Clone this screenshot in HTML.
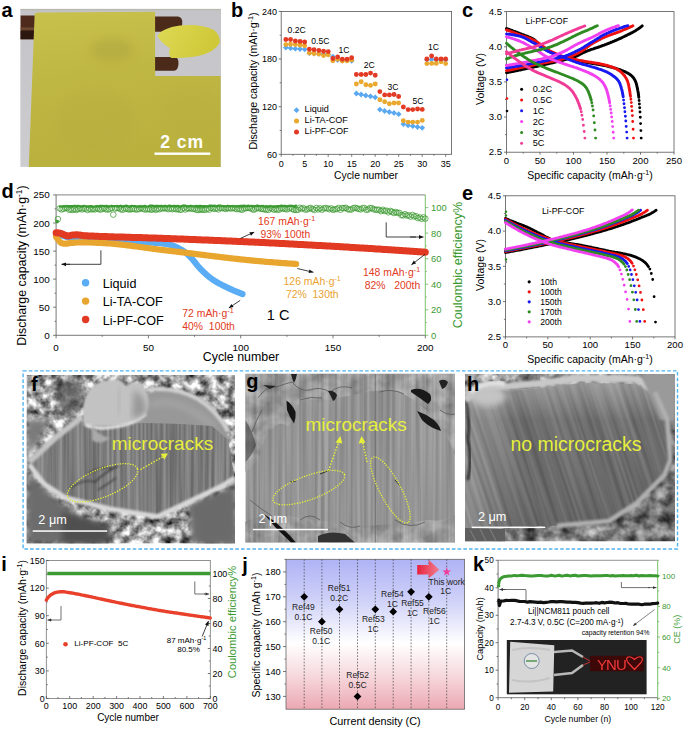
<!DOCTYPE html>
<html><head><meta charset="utf-8"><title>Figure</title>
<style>html,body{margin:0;padding:0;background:#fff;width:685px;height:729px;overflow:hidden}
svg{display:block;font-family:"Liberation Sans",sans-serif}</style></head>
<body><svg width="685" height="729" viewBox="0 0 685 729" font-family="Liberation Sans, sans-serif"><defs><linearGradient id="wall" x1="0" y1="0" x2="0" y2="1"><stop offset="0" stop-color="#c4c4c8"/><stop offset="1" stop-color="#cdcdd0"/></linearGradient><linearGradient id="film" x1="0" y1="0" x2="0.15" y2="1"><stop offset="0" stop-color="#c8c14c"/><stop offset="0.45" stop-color="#bfb743"/><stop offset="1" stop-color="#b9b03e"/></linearGradient><linearGradient id="disc" x1="0" y1="0" x2="1" y2="0.3"><stop offset="0" stop-color="#ddd954"/><stop offset="1" stop-color="#cfc838"/></linearGradient><filter id="ba" x="-30%" y="-30%" width="160%" height="160%"><feGaussianBlur stdDeviation="4"/></filter><clipPath id="ca"><rect x="20.2" y="8.7" width="200.8" height="158.20000000000002"/></clipPath><clipPath id="cf"><rect x="26.5" y="375" width="208.5" height="168.60000000000002"/></clipPath><filter id="gf1" x="0" y="0" width="100%" height="100%" color-interpolation-filters="sRGB"><feTurbulence type="fractalNoise" baseFrequency="0.11" numOctaves="3" seed="5"/><feColorMatrix type="matrix" values="1.452 0 0 0 -0.092 1.452 0 0 0 -0.092 1.452 0 0 0 -0.092 0 0 0 0 1"/><feComposite in2="SourceAlpha" operator="in"/></filter><filter id="bl1" x="-20%" y="-20%" width="140%" height="140%"><feGaussianBlur stdDeviation="1.2"/></filter><filter id="bl3" x="-20%" y="-20%" width="140%" height="140%"><feGaussianBlur stdDeviation="3"/></filter><pattern id="sf" width="3.4" height="20" patternUnits="userSpaceOnUse" patternTransform="rotate(0)"><rect width="1.4" height="20" fill="#000" opacity="0.06"/></pattern><filter id="stf" x="0" y="0" width="100%" height="100%" color-interpolation-filters="sRGB"><feTurbulence type="fractalNoise" baseFrequency="0.3 0.005" numOctaves="2" seed="4"/><feColorMatrix type="matrix" values="2.20 0 0 0 -0.60 2.20 0 0 0 -0.60 2.20 0 0 0 -0.60 0 0 0 0 1"/><feComposite in2="SourceAlpha" operator="in"/></filter><clipPath id="cg"><rect x="245.4" y="373.8" width="209.49999999999997" height="168.7"/></clipPath><filter id="gg1" x="0" y="0" width="100%" height="100%" color-interpolation-filters="sRGB"><feTurbulence type="fractalNoise" baseFrequency="0.06" numOctaves="3" seed="11"/><feColorMatrix type="matrix" values="0.355 0 0 0 0.442 0.355 0 0 0 0.442 0.355 0 0 0 0.442 0 0 0 0 1"/><feComposite in2="SourceAlpha" operator="in"/></filter><pattern id="sg" width="3.3" height="20" patternUnits="userSpaceOnUse" patternTransform="rotate(0)"><rect width="1.4" height="20" fill="#000" opacity="0.045"/></pattern><filter id="stg" x="0" y="0" width="100%" height="100%" color-interpolation-filters="sRGB"><feTurbulence type="fractalNoise" baseFrequency="0.28 0.004" numOctaves="2" seed="8"/><feColorMatrix type="matrix" values="2.00 0 0 0 -0.50 2.00 0 0 0 -0.50 2.00 0 0 0 -0.50 0 0 0 0 1"/><feComposite in2="SourceAlpha" operator="in"/></filter><clipPath id="ch"><rect x="465" y="374" width="210.10000000000002" height="167.5"/></clipPath><filter id="gh1" x="0" y="0" width="100%" height="100%" color-interpolation-filters="sRGB"><feTurbulence type="fractalNoise" baseFrequency="0.1" numOctaves="3" seed="21"/><feColorMatrix type="matrix" values="1.129 0 0 0 0.081 1.129 0 0 0 0.081 1.129 0 0 0 0.081 0 0 0 0 1"/><feComposite in2="SourceAlpha" operator="in"/></filter><filter id="gh2" x="0" y="0" width="100%" height="100%" color-interpolation-filters="sRGB"><feTurbulence type="fractalNoise" baseFrequency="0.08" numOctaves="3" seed="27"/><feColorMatrix type="matrix" values="0.903 0 0 0 0.010 0.903 0 0 0 0.010 0.903 0 0 0 0.010 0 0 0 0 1"/><feComposite in2="SourceAlpha" operator="in"/></filter><pattern id="sh" width="4.6" height="20" patternUnits="userSpaceOnUse" patternTransform="rotate(-14)"><rect width="1.8" height="20" fill="#000" opacity="0.05"/></pattern><linearGradient id="hg" x1="0" y1="0" x2="0.2" y2="1"><stop offset="0" stop-color="#747474"/><stop offset="1" stop-color="#646464"/></linearGradient><linearGradient id="hg2" x1="0" y1="0" x2="1" y2="0"><stop offset="0" stop-color="#a0a0a0" stop-opacity="0.7"/><stop offset="1" stop-color="#a0a0a0" stop-opacity="0"/></linearGradient><filter id="sth" x="0" y="0" width="100%" height="100%" color-interpolation-filters="sRGB"><feTurbulence type="fractalNoise" baseFrequency="0.22 0.004" numOctaves="2" seed="12"/><feColorMatrix type="matrix" values="2.00 0 0 0 -0.50 2.00 0 0 0 -0.50 2.00 0 0 0 -0.50 0 0 0 0 1"/><feComposite in2="SourceAlpha" operator="in"/></filter><clipPath id="chp"><path d="M466 402 L483.4 389 L511 390 L544.7 387 L581.5 383 L636.7 384 L655 394 L667.3 420 L670.4 459.8 L664.3 475.2 L636.7 502.8 L609 521 L557 525.7 L483.4 527.3 L465 530 L465 400Z"/></clipPath><linearGradient id="hg3" x1="0" y1="0" x2="0" y2="1"><stop offset="0" stop-color="#fff" stop-opacity="0.28"/><stop offset="1" stop-color="#fff" stop-opacity="0"/></linearGradient><linearGradient id="jbg" x1="0" y1="0" x2="0" y2="1"><stop offset="0" stop-color="#afb3f5"/><stop offset="0.28" stop-color="#d0d2f8"/><stop offset="0.56" stop-color="#ffffff"/><stop offset="0.78" stop-color="#f6d8dc"/><stop offset="1" stop-color="#eca8b2"/></linearGradient><linearGradient id="jar" x1="0" y1="0" x2="1" y2="0"><stop offset="0" stop-color="#e8203c"/><stop offset="1" stop-color="#f08090"/></linearGradient><filter id="glow" x="-20%" y="-40%" width="140%" height="180%"><feGaussianBlur stdDeviation="0.5"/></filter></defs><rect width="685" height="729" fill="#fff"/><text x="1.5" y="16.5" font-size="20" font-weight="bold" fill="#000">a</text><g clip-path="url(#ca)"><rect x="20.2" y="8.7" width="200.8" height="158.20000000000002" fill="url(#wall)"/><rect x="20.5" y="8.7" width="200.5" height="1.6" fill="#b8b8b0"/><path d="M20.5 15.5 L40 15.5 L40 39.2 L20.5 39.2 Z" fill="#4e2a1c"/><path d="M20.5 31 L40 31 L40 39.2 L20.5 39.2 Z" fill="#2c1610"/><path d="M20.5 28.6 L40 28.6" stroke="#6e4a36" stroke-width="2.4"/><path d="M150 16.4 L178 16.4 Q183 17 182.2 24 Q182 31 177 31.7 L150 31.7 Z" fill="#4c2a1a"/><path d="M150 56.9 L175 56.9 Q179 58 178.5 64 Q178 70.5 174 70.8 L150 70.8 Z" fill="#4c2a1a"/><path d="M157.4 36 Q162 28 180 25.5 Q200 23.5 214 30 Q221 36 219.5 43 Q215 52 198 56 Q182 58.5 171 58 Q168 54 170 48 Q162 44 157.4 36 Z" fill="url(#disc)"/><path d="M34.6 15 Q35 12.6 38 12.6 L155.1 11.8 L155.1 76 L220.6 76 L220.6 166.9 L28.8 166.9 Z" fill="url(#film)"/><ellipse cx="112" cy="50" rx="22" ry="12" fill="#a49a3a" opacity="0.35" filter="url(#ba)"/><ellipse cx="95" cy="120" rx="40" ry="30" fill="#b0a640" opacity="0.2" filter="url(#ba)"/><ellipse cx="190" cy="110" rx="30" ry="25" fill="#b4aa40" opacity="0.2" filter="url(#ba)"/></g><text x="160.3" y="147.8" font-size="17.6" font-weight="bold" fill="#fff" letter-spacing="0.9">2 cm</text><rect x="154.5" y="152.5" width="55.8" height="2.4" fill="#fff"/><text x="231" y="16.5" font-size="20" font-weight="bold" fill="#000">b</text><rect x="281.2" y="11.4" width="170.4" height="142.9" fill="none" stroke="#555" stroke-width="0.8"/><line x1="281.2" y1="154.3" x2="281.2" y2="156.8" stroke="#555" stroke-width="0.8"/><text x="281.2" y="166.8" font-size="9" text-anchor="middle">0</text><line x1="304.7" y1="154.3" x2="304.7" y2="156.8" stroke="#555" stroke-width="0.8"/><text x="304.7" y="166.8" font-size="9" text-anchor="middle">5</text><line x1="328.2" y1="154.3" x2="328.2" y2="156.8" stroke="#555" stroke-width="0.8"/><text x="328.2" y="166.8" font-size="9" text-anchor="middle">10</text><line x1="351.7" y1="154.3" x2="351.7" y2="156.8" stroke="#555" stroke-width="0.8"/><text x="351.7" y="166.8" font-size="9" text-anchor="middle">15</text><line x1="375.2" y1="154.3" x2="375.2" y2="156.8" stroke="#555" stroke-width="0.8"/><text x="375.2" y="166.8" font-size="9" text-anchor="middle">20</text><line x1="398.7" y1="154.3" x2="398.7" y2="156.8" stroke="#555" stroke-width="0.8"/><text x="398.7" y="166.8" font-size="9" text-anchor="middle">25</text><line x1="422.2" y1="154.3" x2="422.2" y2="156.8" stroke="#555" stroke-width="0.8"/><text x="422.2" y="166.8" font-size="9" text-anchor="middle">30</text><line x1="445.7" y1="154.3" x2="445.7" y2="156.8" stroke="#555" stroke-width="0.8"/><text x="445.7" y="166.8" font-size="9" text-anchor="middle">35</text><line x1="292.9" y1="154.3" x2="292.9" y2="155.8" stroke="#555" stroke-width="0.8"/><line x1="316.4" y1="154.3" x2="316.4" y2="155.8" stroke="#555" stroke-width="0.8"/><line x1="339.9" y1="154.3" x2="339.9" y2="155.8" stroke="#555" stroke-width="0.8"/><line x1="363.4" y1="154.3" x2="363.4" y2="155.8" stroke="#555" stroke-width="0.8"/><line x1="386.9" y1="154.3" x2="386.9" y2="155.8" stroke="#555" stroke-width="0.8"/><line x1="410.4" y1="154.3" x2="410.4" y2="155.8" stroke="#555" stroke-width="0.8"/><line x1="433.9" y1="154.3" x2="433.9" y2="155.8" stroke="#555" stroke-width="0.8"/><line x1="281.2" y1="154.3" x2="278.7" y2="154.3" stroke="#555" stroke-width="0.8"/><text x="277" y="157.5" font-size="9" text-anchor="end">60</text><line x1="281.2" y1="106.7" x2="278.7" y2="106.7" stroke="#555" stroke-width="0.8"/><text x="277" y="109.9" font-size="9" text-anchor="end">120</text><line x1="281.2" y1="59" x2="278.7" y2="59" stroke="#555" stroke-width="0.8"/><text x="277" y="62.2" font-size="9" text-anchor="end">180</text><line x1="281.2" y1="11.4" x2="278.7" y2="11.4" stroke="#555" stroke-width="0.8"/><text x="277" y="14.6" font-size="9" text-anchor="end">240</text><line x1="281.2" y1="130.5" x2="279.7" y2="130.5" stroke="#555" stroke-width="0.8"/><line x1="281.2" y1="82.8" x2="279.7" y2="82.8" stroke="#555" stroke-width="0.8"/><line x1="281.2" y1="35.2" x2="279.7" y2="35.2" stroke="#555" stroke-width="0.8"/><text x="366" y="178.5" font-size="10.4" text-anchor="middle">Cycle number</text><text x="256.5" y="81" font-size="10.6" text-anchor="middle" transform="rotate(-90 256.5 81)">Discharge capacity (mAh·g<tspan dy="-4" font-size="7.2">-1</tspan><tspan dy="4">)</tspan></text><path d="M285.9 44.6l2.9 2.9l-2.9 2.9l-2.9-2.9zM290.6 45.3l2.9 2.9l-2.9 2.9l-2.9-2.9zM295.3 45.8l2.9 2.9l-2.9 2.9l-2.9-2.9zM300 46.1l2.9 2.9l-2.9 2.9l-2.9-2.9zM304.7 46.4l2.9 2.9l-2.9 2.9l-2.9-2.9zM309.4 50.2l2.9 2.9l-2.9 2.9l-2.9-2.9zM314.1 50.6l2.9 2.9l-2.9 2.9l-2.9-2.9zM318.8 50.9l2.9 2.9l-2.9 2.9l-2.9-2.9zM323.5 51.2l2.9 2.9l-2.9 2.9l-2.9-2.9zM328.2 51.5l2.9 2.9l-2.9 2.9l-2.9-2.9zM332.9 53.8l2.9 2.9l-2.9 2.9l-2.9-2.9zM337.6 57.1l2.9 2.9l-2.9 2.9l-2.9-2.9zM342.3 57.5l2.9 2.9l-2.9 2.9l-2.9-2.9zM347 57.7l2.9 2.9l-2.9 2.9l-2.9-2.9zM351.7 57.9l2.9 2.9l-2.9 2.9l-2.9-2.9zM356.4 90.6l2.9 2.9l-2.9 2.9l-2.9-2.9zM361.1 91.6l2.9 2.9l-2.9 2.9l-2.9-2.9zM365.8 92.6l2.9 2.9l-2.9 2.9l-2.9-2.9zM370.5 93.4l2.9 2.9l-2.9 2.9l-2.9-2.9zM375.2 94.4l2.9 2.9l-2.9 2.9l-2.9-2.9zM379.9 106.7l2.9 2.9l-2.9 2.9l-2.9-2.9zM384.6 108.1l2.9 2.9l-2.9 2.9l-2.9-2.9zM389.3 109.1l2.9 2.9l-2.9 2.9l-2.9-2.9zM394 110l2.9 2.9l-2.9 2.9l-2.9-2.9zM398.7 111.3l2.9 2.9l-2.9 2.9l-2.9-2.9zM403.4 121.2l2.9 2.9l-2.9 2.9l-2.9-2.9zM408.1 122.5l2.9 2.9l-2.9 2.9l-2.9-2.9zM412.8 123.2l2.9 2.9l-2.9 2.9l-2.9-2.9zM417.5 124.1l2.9 2.9l-2.9 2.9l-2.9-2.9zM422.2 124.9l2.9 2.9l-2.9 2.9l-2.9-2.9zM426.9 56.9l2.9 2.9l-2.9 2.9l-2.9-2.9zM431.6 56.5l2.9 2.9l-2.9 2.9l-2.9-2.9zM436.3 56.9l2.9 2.9l-2.9 2.9l-2.9-2.9zM441 56.9l2.9 2.9l-2.9 2.9l-2.9-2.9zM445.7 56.9l2.9 2.9l-2.9 2.9l-2.9-2.9z" stroke="none" stroke-width="1" fill="#5aa9f0"/><path d="M283.4 44.6a2.45 2.45 0 1 0 4.9 0a2.45 2.45 0 1 0 -4.9 0M288.1 44.3a2.45 2.45 0 1 0 4.9 0a2.45 2.45 0 1 0 -4.9 0M292.9 44.6a2.45 2.45 0 1 0 4.9 0a2.45 2.45 0 1 0 -4.9 0M297.6 45a2.45 2.45 0 1 0 4.9 0a2.45 2.45 0 1 0 -4.9 0M302.2 45.8a2.45 2.45 0 1 0 4.9 0a2.45 2.45 0 1 0 -4.9 0M306.9 53.1a2.45 2.45 0 1 0 4.9 0a2.45 2.45 0 1 0 -4.9 0M311.6 53.6a2.45 2.45 0 1 0 4.9 0a2.45 2.45 0 1 0 -4.9 0M316.4 54.1a2.45 2.45 0 1 0 4.9 0a2.45 2.45 0 1 0 -4.9 0M321.1 55.5a2.45 2.45 0 1 0 4.9 0a2.45 2.45 0 1 0 -4.9 0M325.8 54.8a2.45 2.45 0 1 0 4.9 0a2.45 2.45 0 1 0 -4.9 0M330.4 60.7a2.45 2.45 0 1 0 4.9 0a2.45 2.45 0 1 0 -4.9 0M335.2 59.2a2.45 2.45 0 1 0 4.9 0a2.45 2.45 0 1 0 -4.9 0M339.9 61a2.45 2.45 0 1 0 4.9 0a2.45 2.45 0 1 0 -4.9 0M344.6 60.7a2.45 2.45 0 1 0 4.9 0a2.45 2.45 0 1 0 -4.9 0M349.2 59.9a2.45 2.45 0 1 0 4.9 0a2.45 2.45 0 1 0 -4.9 0M353.9 84a2.45 2.45 0 1 0 4.9 0a2.45 2.45 0 1 0 -4.9 0M358.7 81.8a2.45 2.45 0 1 0 4.9 0a2.45 2.45 0 1 0 -4.9 0M363.4 84.8a2.45 2.45 0 1 0 4.9 0a2.45 2.45 0 1 0 -4.9 0M368.1 85.4a2.45 2.45 0 1 0 4.9 0a2.45 2.45 0 1 0 -4.9 0M372.8 84a2.45 2.45 0 1 0 4.9 0a2.45 2.45 0 1 0 -4.9 0M377.4 99.8a2.45 2.45 0 1 0 4.9 0a2.45 2.45 0 1 0 -4.9 0M382.2 101.8a2.45 2.45 0 1 0 4.9 0a2.45 2.45 0 1 0 -4.9 0M386.9 103.7a2.45 2.45 0 1 0 4.9 0a2.45 2.45 0 1 0 -4.9 0M391.6 103a2.45 2.45 0 1 0 4.9 0a2.45 2.45 0 1 0 -4.9 0M396.2 103a2.45 2.45 0 1 0 4.9 0a2.45 2.45 0 1 0 -4.9 0M400.9 120.8a2.45 2.45 0 1 0 4.9 0a2.45 2.45 0 1 0 -4.9 0M405.7 122.1a2.45 2.45 0 1 0 4.9 0a2.45 2.45 0 1 0 -4.9 0M410.3 122.1a2.45 2.45 0 1 0 4.9 0a2.45 2.45 0 1 0 -4.9 0M415.1 122.1a2.45 2.45 0 1 0 4.9 0a2.45 2.45 0 1 0 -4.9 0M419.8 120.4a2.45 2.45 0 1 0 4.9 0a2.45 2.45 0 1 0 -4.9 0M424.4 63.6a2.45 2.45 0 1 0 4.9 0a2.45 2.45 0 1 0 -4.9 0M429.2 63.4a2.45 2.45 0 1 0 4.9 0a2.45 2.45 0 1 0 -4.9 0M433.8 63.4a2.45 2.45 0 1 0 4.9 0a2.45 2.45 0 1 0 -4.9 0M438.6 61.7a2.45 2.45 0 1 0 4.9 0a2.45 2.45 0 1 0 -4.9 0M443.2 63.6a2.45 2.45 0 1 0 4.9 0a2.45 2.45 0 1 0 -4.9 0" stroke="none" stroke-width="1" fill="#eaa82e"/><path d="M283.4 39.5a2.45 2.45 0 1 0 4.9 0a2.45 2.45 0 1 0 -4.9 0M288.1 39.5a2.45 2.45 0 1 0 4.9 0a2.45 2.45 0 1 0 -4.9 0M292.9 41a2.45 2.45 0 1 0 4.9 0a2.45 2.45 0 1 0 -4.9 0M297.6 41.4a2.45 2.45 0 1 0 4.9 0a2.45 2.45 0 1 0 -4.9 0M302.2 42a2.45 2.45 0 1 0 4.9 0a2.45 2.45 0 1 0 -4.9 0M306.9 49.3a2.45 2.45 0 1 0 4.9 0a2.45 2.45 0 1 0 -4.9 0M311.6 49.7a2.45 2.45 0 1 0 4.9 0a2.45 2.45 0 1 0 -4.9 0M316.4 50.4a2.45 2.45 0 1 0 4.9 0a2.45 2.45 0 1 0 -4.9 0M321.1 51.2a2.45 2.45 0 1 0 4.9 0a2.45 2.45 0 1 0 -4.9 0M325.8 51.6a2.45 2.45 0 1 0 4.9 0a2.45 2.45 0 1 0 -4.9 0M330.4 58.5a2.45 2.45 0 1 0 4.9 0a2.45 2.45 0 1 0 -4.9 0M335.2 57a2.45 2.45 0 1 0 4.9 0a2.45 2.45 0 1 0 -4.9 0M339.9 59.2a2.45 2.45 0 1 0 4.9 0a2.45 2.45 0 1 0 -4.9 0M344.6 59.2a2.45 2.45 0 1 0 4.9 0a2.45 2.45 0 1 0 -4.9 0M349.2 57.7a2.45 2.45 0 1 0 4.9 0a2.45 2.45 0 1 0 -4.9 0M353.9 74.5a2.45 2.45 0 1 0 4.9 0a2.45 2.45 0 1 0 -4.9 0M358.7 74.5a2.45 2.45 0 1 0 4.9 0a2.45 2.45 0 1 0 -4.9 0M363.4 74.5a2.45 2.45 0 1 0 4.9 0a2.45 2.45 0 1 0 -4.9 0M368.1 73.1a2.45 2.45 0 1 0 4.9 0a2.45 2.45 0 1 0 -4.9 0M372.8 75.3a2.45 2.45 0 1 0 4.9 0a2.45 2.45 0 1 0 -4.9 0M377.4 91.6a2.45 2.45 0 1 0 4.9 0a2.45 2.45 0 1 0 -4.9 0M382.2 94.9a2.45 2.45 0 1 0 4.9 0a2.45 2.45 0 1 0 -4.9 0M386.9 94.9a2.45 2.45 0 1 0 4.9 0a2.45 2.45 0 1 0 -4.9 0M391.6 94.5a2.45 2.45 0 1 0 4.9 0a2.45 2.45 0 1 0 -4.9 0M396.2 96.5a2.45 2.45 0 1 0 4.9 0a2.45 2.45 0 1 0 -4.9 0M400.9 107a2.45 2.45 0 1 0 4.9 0a2.45 2.45 0 1 0 -4.9 0M405.7 109.6a2.45 2.45 0 1 0 4.9 0a2.45 2.45 0 1 0 -4.9 0M410.3 109.6a2.45 2.45 0 1 0 4.9 0a2.45 2.45 0 1 0 -4.9 0M415.1 109a2.45 2.45 0 1 0 4.9 0a2.45 2.45 0 1 0 -4.9 0M419.8 109.4a2.45 2.45 0 1 0 4.9 0a2.45 2.45 0 1 0 -4.9 0M424.4 59a2.45 2.45 0 1 0 4.9 0a2.45 2.45 0 1 0 -4.9 0M429.2 56a2.45 2.45 0 1 0 4.9 0a2.45 2.45 0 1 0 -4.9 0M433.8 59a2.45 2.45 0 1 0 4.9 0a2.45 2.45 0 1 0 -4.9 0M438.6 59a2.45 2.45 0 1 0 4.9 0a2.45 2.45 0 1 0 -4.9 0M443.2 59a2.45 2.45 0 1 0 4.9 0a2.45 2.45 0 1 0 -4.9 0" stroke="none" stroke-width="1" fill="#e23a24"/><text x="296.7" y="32.7" font-size="8.6" text-anchor="middle">0.2C</text><text x="320.3" y="43.9" font-size="8.6" text-anchor="middle">0.5C</text><text x="343.9" y="52.6" font-size="8.6" text-anchor="middle">1C</text><text x="369.2" y="68.2" font-size="8.6" text-anchor="middle">2C</text><text x="393" y="90.3" font-size="8.6" text-anchor="middle">3C</text><text x="418" y="103.7" font-size="8.6" text-anchor="middle">5C</text><text x="433.4" y="49.9" font-size="8.6" text-anchor="middle">1C</text><path d="M296.5 107.3l2.9 2.9l-2.9 2.9l-2.9-2.9z" stroke="none" stroke-width="1" fill="#5aa9f0"/><circle cx="296.5" cy="121.1" r="2.5" fill="#eaa82e"/><circle cx="296.5" cy="132" r="2.5" fill="#e23a24"/><text x="304.6" y="112.4" font-size="9.1">Liquid</text><text x="304.6" y="123.2" font-size="9.1">Li-TA-COF</text><text x="304.6" y="134.1" font-size="9.1">Li-PF-COF</text><text x="462" y="17.2" font-size="20" font-weight="bold" fill="#000">c</text><rect x="506.5" y="11.6" width="167.5" height="140.6" fill="none" stroke="#555" stroke-width="0.8"/><line x1="506.5" y1="152.2" x2="506.5" y2="154.7" stroke="#555" stroke-width="0.8"/><text x="506.5" y="163.5" font-size="9.6" text-anchor="middle">0</text><line x1="540" y1="152.2" x2="540" y2="154.7" stroke="#555" stroke-width="0.8"/><text x="540" y="163.5" font-size="9.6" text-anchor="middle">50</text><line x1="573.5" y1="152.2" x2="573.5" y2="154.7" stroke="#555" stroke-width="0.8"/><text x="573.5" y="163.5" font-size="9.6" text-anchor="middle">100</text><line x1="607" y1="152.2" x2="607" y2="154.7" stroke="#555" stroke-width="0.8"/><text x="607" y="163.5" font-size="9.6" text-anchor="middle">150</text><line x1="640.5" y1="152.2" x2="640.5" y2="154.7" stroke="#555" stroke-width="0.8"/><text x="640.5" y="163.5" font-size="9.6" text-anchor="middle">200</text><line x1="674" y1="152.2" x2="674" y2="154.7" stroke="#555" stroke-width="0.8"/><text x="674" y="163.5" font-size="9.6" text-anchor="middle">250</text><line x1="523.2" y1="152.2" x2="523.2" y2="153.7" stroke="#555" stroke-width="0.8"/><line x1="556.8" y1="152.2" x2="556.8" y2="153.7" stroke="#555" stroke-width="0.8"/><line x1="590.2" y1="152.2" x2="590.2" y2="153.7" stroke="#555" stroke-width="0.8"/><line x1="623.8" y1="152.2" x2="623.8" y2="153.7" stroke="#555" stroke-width="0.8"/><line x1="657.2" y1="152.2" x2="657.2" y2="153.7" stroke="#555" stroke-width="0.8"/><line x1="506.5" y1="152.2" x2="504" y2="152.2" stroke="#555" stroke-width="0.8"/><text x="502" y="155.4" font-size="9.6" text-anchor="end">2.5</text><line x1="506.5" y1="117" x2="504" y2="117" stroke="#555" stroke-width="0.8"/><text x="502" y="120.2" font-size="9.6" text-anchor="end">3.0</text><line x1="506.5" y1="81.9" x2="504" y2="81.9" stroke="#555" stroke-width="0.8"/><text x="502" y="85.1" font-size="9.6" text-anchor="end">3.5</text><line x1="506.5" y1="46.8" x2="504" y2="46.8" stroke="#555" stroke-width="0.8"/><text x="502" y="50" font-size="9.6" text-anchor="end">4.0</text><line x1="506.5" y1="11.6" x2="504" y2="11.6" stroke="#555" stroke-width="0.8"/><text x="502" y="14.8" font-size="9.6" text-anchor="end">4.5</text><line x1="506.5" y1="134.6" x2="505" y2="134.6" stroke="#555" stroke-width="0.8"/><line x1="506.5" y1="99.5" x2="505" y2="99.5" stroke="#555" stroke-width="0.8"/><line x1="506.5" y1="64.3" x2="505" y2="64.3" stroke="#555" stroke-width="0.8"/><line x1="506.5" y1="29.2" x2="505" y2="29.2" stroke="#555" stroke-width="0.8"/><text x="590" y="178.5" font-size="10.5" text-anchor="middle">Specific capacity (mAh·g<tspan dy="-4" font-size="7.1">-1</tspan><tspan dy="4">)</tspan></text><text x="483.5" y="79" font-size="10.5" text-anchor="middle" transform="rotate(-90 483.5 79)">Voltage (V)</text><text x="525.5" y="24.2" font-size="8.8">Li-PF-COF</text><path d="M506.5 72.8 507.4 72.6 508.3 72.4 509.2 72.2 510.1 72 511 71.9 511.9 71.7 512.8 71.5 513.7 71.3 514.6 71.1 515.5 70.9 516.5 70.7 517.4 70.6 518.3 70.4 519.2 70.2 520.1 70 521 69.8 521.9 69.6 522.8 69.4 523.7 69.2 524.6 69 525.5 68.8 526.4 68.6 527.3 68.4 528.2 68.2 529.1 68.1 530 67.9 530.9 67.7 531.8 67.5 532.7 67.3 533.6 67.1 534.5 66.9 535.5 66.7 536.4 66.5 537.3 66.3 538.2 66.1 539.1 65.9 540 65.7 540.9 65.5 541.8 65.3 542.7 65.1 543.6 64.9 544.5 64.6 545.4 64.4 546.3 64.2 547.2 64 548.1 63.8 549 63.6 549.9 63.4 550.8 63.2 551.7 63 552.6 62.8 553.5 62.6 554.5 62.3 555.4 62.1 556.3 61.9 557.2 61.7 558.1 61.5 559 61.2 559.9 61 560.8 60.8 561.7 60.6 562.6 60.3 563.5 60.1 564.4 59.9 565.3 59.6 566.2 59.4 567.1 59.2 568 58.9 568.9 58.7 569.8 58.4 570.7 58.2 571.6 57.9 572.5 57.6 573.4 57.3 574.4 57 575.3 56.6 576.2 56.2 577.1 55.8 578 55.4 578.9 54.9 579.8 54.4 580.7 54 581.6 53.5 582.5 53.1 583.4 52.6 584.3 52.2 585.2 51.8 586.1 51.4 587 51.1 587.9 50.7 588.8 50.4 589.7 50.1 590.6 49.7 591.5 49.4 592.4 49.1 593.4 48.8 594.3 48.5 595.2 48.2 596.1 47.9 597 47.6 597.9 47.3 598.8 47 599.7 46.7 600.6 46.4 601.5 46 602.4 45.7 603.3 45.4 604.2 45.1 605.1 44.7 606 44.4 606.9 44 607.8 43.7 608.7 43.3 609.6 42.9 610.5 42.6 611.4 42.2 612.4 41.8 613.3 41.4 614.2 41.1 615.1 40.7 616 40.3 616.9 39.9 617.8 39.5 618.7 39.1 619.6 38.7 620.5 38.3 621.4 37.9 622.3 37.4 623.2 37 624.1 36.6 625 36.1 625.9 35.7 626.8 35.3 627.7 34.8 628.6 34.3 629.5 33.9 630.4 33.4 631.4 32.9 632.3 32.4 633.2 31.9 634.1 31.4 635 30.9 635.9 30.4 636.8 29.8 637.7 29.3 638.6 28.7 639.5 28 640.4 27.3 641.3 26.6 642.2 25.9" stroke="#000" stroke-width="2.9" fill="none" stroke-linecap="round" stroke-linejoin="round"/><path d="M506.5 28.5 507.4 28.8 508.3 29.1 509.2 29.4 510.1 29.8 511 30.1 511.9 30.4 512.8 30.8 513.7 31.1 514.7 31.4 515.6 31.8 516.5 32.1 517.4 32.5 518.3 32.9 519.2 33.2 520.1 33.6 521 33.9 521.9 34.3 522.8 34.6 523.7 34.9 524.6 35.3 525.5 35.6 526.4 35.9 527.3 36.3 528.2 36.6 529.1 37 530.1 37.4 531 37.9 531.9 38.3 532.8 38.8 533.7 39.3 534.6 39.9 535.5 40.6 536.4 41.6 537.3 42.6 537.9 43.3 538.5 44 539.1 44.6 540 45.6 540.9 46.4 541.8 47.1 542.7 47.7 543.6 48.3 544.5 48.9 545.5 49.4 546.4 50 547.3 50.5 548.2 51 549.1 51.4 550 51.9 550.9 52.3 551.8 52.7 552.7 53.1 553.6 53.5 554.5 53.9 555.4 54.2 556.3 54.6 557.2 54.9 558.1 55.2 559 55.5 559.9 55.8 560.9 56.1 561.8 56.3 562.7 56.6 563.6 56.8 564.5 57.1 565.4 57.3 566.3 57.5 567.2 57.8 568.1 58 569 58.2 569.9 58.5 570.8 58.7 571.7 58.9 572.6 59.2 573.5 59.4 574.4 59.6 575.3 59.9 576.3 60.1 577.2 60.3 578.1 60.5 579 60.7 579.9 61 580.8 61.2 581.7 61.4 582.6 61.6 583.5 61.8 584.4 62 585.3 62.2 586.2 62.3 587.1 62.5 588 62.7 588.9 62.9 589.8 63 590.7 63.2 591.7 63.3 592.6 63.5 593.5 63.6 594.4 63.8 595.3 63.9 596.2 64.1 597.1 64.2 598 64.4 598.9 64.5 599.8 64.7 600.7 64.8 601.6 65 602.5 65.2 603.4 65.3 604.3 65.5 605.2 65.7 606.1 65.9 607 66.1 608 66.3 608.9 66.5 609.8 66.8 610.7 67 611.6 67.2 612.5 67.5 613.4 67.7 614.3 68 615.2 68.2 616.1 68.5 617 68.8 617.9 69.1 618.8 69.4 619.7 69.7 620.6 70 621.5 70.4 622.4 70.7 623.4 71.1 624.3 71.4 625.2 71.8 626.1 72.3 627 72.7 627.9 73.2 628.8 73.7 629.7 74.3 630.6 75 631.5 75.7 632.4 76.6 633 77.3 633.6 78 634.2 78.9 634.8 79.9 635.4 81.1 636 82.7 636.3 83.7 636.6 84.8 636.9 86.1 637.2 87.4 637.5 88.9 637.8 90.5 638.2 92.4 638.5 94.7 638.8 97.4M639.1 100.5h0M639.4 104h0M639.7 107.7h0M640 112h0M640.3 117.3h0M640.6 123.6h0M640.9 130.6h0M641.2 138.1h0" stroke="#000" stroke-width="2.9" fill="none" stroke-linecap="round" stroke-linejoin="round"/><path d="M506.5 70.7 507.6 70.4 508.7 70.2 509.8 70 510.9 69.7 512 69.5 513.1 69.3 514.3 69 515.4 68.8 516.5 68.6 517.6 68.3 518.7 68.1 519.8 67.9 520.9 67.6 522 67.4 523.1 67.2 524.2 66.9 525.3 66.7 526.4 66.5 527.5 66.2 528.7 66 529.8 65.8 530.9 65.5 532 65.3 533.1 65.1 534.2 64.8 535.3 64.6 536.4 64.4 537.5 64.2 538.6 64 539.7 63.8 540.8 63.5 541.9 63.3 543 63.1 544.2 62.9 545.3 62.7 546.4 62.5 547.5 62.3 548.6 62.1 549.7 61.9 550.8 61.7 551.9 61.4 553 61.2 554.1 61 555.2 60.7 556.3 60.5 557.4 60.2 558.6 60 559.7 59.7 560.8 59.4 561.9 59.1 563 58.8 564.1 58.5 565.2 58.2 566.3 57.8 567.4 57.5 568.5 57.1 569.6 56.7 570.7 56.3 571.8 55.9 573 55.4 574.1 55 575.2 54.5 576.3 54 577.4 53.5 578.5 52.9 579.6 52.3 580.7 51.7 581.8 51 582.9 50.2 583.7 49.7 584.4 49.2 585.1 48.6 585.9 48.1 586.6 47.5 587.4 47 588.1 46.5 588.8 45.9 589.6 45.4 590.7 44.6 591.8 43.9 592.9 43.3 594 42.6 595.1 42 596.2 41.4 597.3 40.8 598.4 40.2 599.5 39.6 600.6 39.1 601.7 38.5 602.9 38 604 37.5 605.1 37 606.2 36.5 607.3 36.1 608.4 35.7 609.5 35.2 610.6 34.8 611.7 34.4 612.8 34.1 613.9 33.7 615 33.3 616.1 32.9 617.3 32.5 618.4 32.1 619.5 31.7 620.6 31.2 621.7 30.8 622.8 30.3 623.9 29.8 625 29.3 626.1 28.9 627.2 28.4 628.3 27.9 629.4 27.4 630.5 26.9 631.7 26.4 632.8 25.8" stroke="#f01010" stroke-width="2.9" fill="none" stroke-linecap="round" stroke-linejoin="round"/><path d="M506.5 29.9 507.6 30.3 508.7 30.7 509.8 31.1 510.9 31.5 512 31.9 513.1 32.4 514.3 32.8 515.4 33.2 516.5 33.6 517.6 34 518.7 34.4 519.8 34.9 520.9 35.3 522 35.7 523.1 36.1 524.2 36.4 525.3 36.8 526.4 37.2 527.5 37.6 528.6 38 529.8 38.4 530.9 38.9 532 39.4 533.1 39.8 534.2 40.4 535.3 40.9 536.4 41.6 537.5 42.3 538.6 43.1 539.3 43.6 540.1 44.1 540.8 44.7 541.6 45.2 542.3 45.8 543 46.4 543.8 46.9 544.5 47.4 545.3 48 546.4 48.7 547.5 49.4 548.6 50.1 549.7 50.7 550.8 51.2 551.9 51.8 553 52.3 554.1 52.9 555.2 53.4 556.3 53.9 557.4 54.4 558.5 54.8 559.6 55.3 560.8 55.7 561.9 56.1 563 56.4 564.1 56.8 565.2 57.1 566.3 57.4 567.4 57.7 568.5 58 569.6 58.3 570.7 58.5 571.8 58.8 572.9 59 574 59.2 575.1 59.5 576.3 59.7 577.4 59.9 578.5 60.2 579.6 60.4 580.7 60.6 581.8 60.8 582.9 61 584 61.2 585.1 61.4 586.2 61.6 587.3 61.7 588.4 61.9 589.5 62.1 590.7 62.2 591.8 62.4 592.9 62.6 594 62.8 595.1 63 596.2 63.1 597.3 63.3 598.4 63.5 599.5 63.7 600.6 64 601.7 64.2 602.8 64.4 603.9 64.7 605 65 606.2 65.2 607.3 65.5 608.4 65.8 609.5 66.2 610.6 66.5 611.7 66.9 612.8 67.3 613.9 67.8 615 68.3 616.1 68.8 617.2 69.3 618.3 70 619.4 70.8 620.2 71.3 620.9 72 621.7 72.6 622.4 73.4 623.1 74.2 623.9 75 624.6 75.9 625.3 77 626.1 78.2 626.8 79.6 627.2 80.4 627.6 81.3 627.9 82.4 628.3 83.7 628.7 85.2 629 87.1 629.4 89.1 629.8 91.4 630.1 93.8 630.5 96.4M630.9 99.3h0M631.3 102.6h0M631.6 106.4h0M632 110.7h0M632.4 115.6h0M632.7 121.5h0M633.1 129.3h0M633.5 138.1h0" stroke="#f01010" stroke-width="2.9" fill="none" stroke-linecap="round" stroke-linejoin="round"/><path d="M506.5 67.8 507.8 67.7 509.1 67.5 510.4 67.3 511.7 67.1 513 66.9 514.4 66.6 515.7 66.4 517 66.2 518.3 66 519.6 65.8 520.9 65.6 522.2 65.3 523.5 65.1 524.8 64.9 526.1 64.6 527.4 64.4 528.7 64.1 530.1 63.9 531.4 63.6 532.7 63.4 534 63.1 535.3 62.9 536.6 62.6 537.9 62.3 539.2 62.1 540.5 61.8 541.8 61.5 543.1 61.3 544.5 61 545.8 60.7 547.1 60.5 548.4 60.2 549.7 59.9 551 59.6 552.3 59.4 553.6 59.1 554.9 58.8 556.2 58.5 557.5 58.2 558.8 57.9 559.7 57.6 560.6 57.4 561.5 57.2 562.3 56.9 563.2 56.7 564.1 56.4 565 56.1 565.8 55.8 566.7 55.5 567.6 55.1 568.4 54.8 569.3 54.4 570.2 54.1 571.1 53.7 571.9 53.3 572.8 52.9 573.7 52.5 574.6 52.1 575.4 51.6 576.3 51.2 577.2 50.8 578 50.3 578.9 49.9 579.8 49.4 580.7 49 581.5 48.5 582.4 47.9 583.3 47.4 584.1 46.9 585 46.3 585.9 45.8 586.8 45.3 587.6 44.7 588.5 44.1 589.4 43.6 590.3 43 591.1 42.5 592 42 592.9 41.4 593.7 40.9 594.6 40.4 595.5 39.8 596.4 39.3 597.2 38.8 598.1 38.2 599 37.7 599.9 37.1 600.7 36.6 601.6 36.1 602.5 35.6 603.3 35.1 604.2 34.7 605.1 34.2 606 33.8 606.8 33.4 607.7 33 608.6 32.6 609.4 32.2 610.3 31.8 611.2 31.5 612.1 31.1 612.9 30.7 613.8 30.4 614.7 30.1 615.6 29.7 616.4 29.4 617.3 29.1 618.2 28.8 619 28.5 619.9 28.1 620.8 27.8 621.7 27.6 622.5 27.3 623.4 27 624.3 26.7 625.2 26.4 626 26.2 626.9 25.9 627.8 25.7" stroke="#1818f0" stroke-width="2.9" fill="none" stroke-linecap="round" stroke-linejoin="round"/><path d="M506.5 34.1 507.8 34.1 509.1 34.2 510.4 34.4 511.7 34.6 513.1 34.8 514.4 35 515.7 35.3 517 35.6 518.3 35.9 519.6 36.2 520.5 36.4 521.4 36.7 522.2 37 523.1 37.4 524 37.7 524.9 38.1 525.7 38.6 526.6 39 527.5 39.5 528.3 39.9 529.2 40.4 530.1 40.9 531 41.4 531.8 41.9 532.7 42.4 533.6 42.9 534.5 43.3 535.3 43.8 536.2 44.3 537.1 44.8 538 45.3 538.8 45.8 539.7 46.4 540.6 46.9 541.5 47.5 542.3 48 543.2 48.5 544.1 49.1 545 49.6 545.8 50.1 546.7 50.6 547.6 51 548.4 51.5 549.3 51.9 550.2 52.2 551.1 52.6 551.9 53 552.8 53.3 553.7 53.7 554.6 54 555.4 54.4 556.3 54.7 557.2 55 558.1 55.3 558.9 55.6 559.8 55.9 560.7 56.3 561.6 56.6 562.4 56.9 563.3 57.2 564.2 57.6 565.1 57.9 565.9 58.3 566.8 58.6 567.7 59 568.5 59.3 569.4 59.7 570.3 60 571.2 60.3 572 60.7 572.9 61 573.8 61.4 574.7 61.7 575.5 62 576.4 62.3 577.3 62.6 578.2 62.9 579 63.2 579.9 63.5 580.8 63.7 581.7 64 582.5 64.2 583.4 64.5 584.3 64.7 585.2 64.9 586 65.2 586.9 65.4 587.8 65.7 588.6 65.9 589.5 66.1 590.4 66.4 591.3 66.6 592.1 66.9 593 67.2 593.9 67.4 594.8 67.7 595.6 68 596.5 68.2 597.4 68.5 598.3 68.8 599.1 69.1 600 69.3 600.9 69.6 601.8 69.9 602.6 70.3 603.5 70.6 604.4 71 605.3 71.3 606.1 71.7 607 72.1 607.9 72.6 608.7 73 609.6 73.5 610.5 74.1 611.4 74.6 612.2 75.2 613.1 75.8 614 76.5 614.9 77.2 615.7 77.9 616.6 78.7 617.5 79.7 618.4 80.8 619.2 82.2 619.7 83.1 620.1 84.1 620.5 85.4 621 86.8 621.4 88.3 621.9 90 622.3 91.9 622.7 94.1 623.2 96.8M623.6 100.1h0M624 103.8h0M624.5 107.7h0M624.9 111.8h0M625.4 116.2h0M625.8 121h0M626.2 126.4h0M626.7 132.1h0M627.1 138.1h0" stroke="#1818f0" stroke-width="2.9" fill="none" stroke-linecap="round" stroke-linejoin="round"/><path d="M506.5 65.5 507.5 65.4 508.5 65.2 509.5 65 510.5 64.8 511.5 64.7 512.5 64.5 513.6 64.3 514.6 64.1 515.6 63.9 516.6 63.8 517.6 63.6 518.6 63.4 519.6 63.2 520.6 63 521.6 62.8 522.6 62.6 523.6 62.5 524.6 62.3 525.7 62.1 526.7 61.9 527.7 61.7 528.7 61.5 529.7 61.3 530.7 61.1 531.7 60.9 532.7 60.7 533.7 60.5 534.7 60.3 535.7 60.1 536.7 59.9 537.7 59.7 538.8 59.5 539.8 59.3 540.8 59.1 541.8 58.9 542.8 58.7 543.8 58.5 544.8 58.3 545.8 58.1 546.8 57.8 547.8 57.6 548.8 57.3 549.8 57 550.9 56.7 551.9 56.4 552.9 56.1 553.9 55.7 554.9 55.3 555.9 54.9 556.9 54.5 557.9 54.1 558.9 53.7 559.9 53.2 560.9 52.8 561.9 52.4 562.9 51.9 564 51.4 565 50.9 566 50.4 567 49.9 568 49.3 569 48.8 570 48.2 571 47.6 572 47 573 46.4 574 45.8 575 45.3 576.1 44.7 577.1 44.2 578.1 43.6 579.1 43.2 580.1 42.7 581.1 42.2 582.1 41.7 583.1 41.3 584.1 40.8 585.1 40.4 586.1 40 587.1 39.5 588.1 39.1 589.2 38.6 590.2 38.2 591.2 37.7 592.2 37.3 593.2 36.8 594.2 36.3 595.2 35.8 596.2 35.2 597.2 34.7 598.2 34.2 599.2 33.6 600.2 33.1 601.3 32.5 602.3 32 603.3 31.5 604.3 31.1 605.3 30.6 606.3 30.2 607.3 29.7 608.3 29.3 609.3 28.9 610.3 28.5 611.3 28.1 612.3 27.7 613.3 27.4 614.4 27 615.4 26.6 616.4 26.3 617.4 26 618.4 25.7" stroke="#f040f0" stroke-width="2.9" fill="none" stroke-linecap="round" stroke-linejoin="round"/><path d="M506.5 36.9 507.5 37.1 508.5 37.4 509.5 37.7 510.5 37.9 511.5 38.2 512.5 38.6 513.5 38.9 514.6 39.2 515.6 39.6 516.6 40 517.6 40.3 518.6 40.7 519.6 41.1 520.6 41.5 521.6 42 522.6 42.4 523.6 42.9 524.6 43.4 525.6 43.9 526.6 44.5 527.6 45 528.6 45.6 529.7 46.2 530.7 46.8 531.7 47.3 532.7 47.9 533.7 48.5 534.7 49.1 535.7 49.7 536.7 50.3 537.7 51 538.7 51.6 539.7 52.3 540.7 53 541.7 53.7 542.7 54.4 543.7 55 544.7 55.7 545.8 56.3 546.8 56.9 547.8 57.4 548.8 57.9 549.8 58.4 550.8 58.9 551.8 59.3 552.8 59.7 553.8 60.1 554.8 60.5 555.8 60.9 556.8 61.3 557.8 61.6 558.8 62 559.8 62.3 560.9 62.7 561.9 63.1 562.9 63.4 563.9 63.8 564.9 64.1 565.9 64.5 566.9 64.8 567.9 65.1 568.9 65.4 569.9 65.8 570.9 66.1 571.9 66.4 572.9 66.7 573.9 67.1 574.9 67.4 576 67.7 577 68.1 578 68.5 579 68.8 580 69.2 581 69.6 582 70 583 70.4 584 70.8 585 71.2 586 71.6 587 72 588 72.4 589 72.9 590 73.4 591.1 73.9 592.1 74.4 593.1 74.9 594.1 75.5 595.1 76.1 596.1 76.7 597.1 77.4 598.1 78.1 599.1 78.9 600.1 79.7 601.1 80.7 602.1 81.7 603.1 83 604.1 84.6 604.6 85.5 605.1 86.4 605.6 87.5 606.2 88.7 606.7 90.2 607.2 91.8 607.7 93.7 608.2 95.7 608.7 97.9 609.2 100.2 609.7 102.9M610.2 106h0M610.7 109.4h0M611.2 113h0M611.7 117h0M612.2 121.5h0M612.7 126.6h0M613.2 132.2h0M613.7 138.1h0" stroke="#f040f0" stroke-width="2.9" fill="none" stroke-linecap="round" stroke-linejoin="round"/><path d="M506.5 58.9 507.8 58.4 509.1 58 510.3 57.5 511.6 57 512.9 56.6 514.2 56.2 515.5 55.7 516.7 55.3 518 55 519.3 54.6 520.6 54.2 521.8 53.9 523.1 53.6 524.4 53.3 525.7 52.9 527 52.7 528.2 52.4 529.5 52.1 530.8 51.8 532.1 51.5 533.4 51.2 534.6 50.9 535.9 50.6 537.2 50.3 538.5 50 539.7 49.7 541 49.5 542.3 49.2 543.6 48.9 544.9 48.6 546.1 48.2 547.4 47.9 548.7 47.5 550 47.1 551.3 46.7 552.5 46.2 553.8 45.7 555.1 45.2 556.4 44.6 557.6 44.1 558.9 43.5 560.2 42.9 561.5 42.3 562.8 41.7 564 41.1 565.3 40.5 566.6 39.9 567.9 39.3 569.2 38.6 570.4 38 571.7 37.3 573 36.6 574.3 36 575.5 35.4 576.8 34.7 578.1 34.1 579.4 33.6 580.7 33 581.9 32.4 583.2 31.9 584.5 31.4 585.8 30.8 587.1 30.3 588.3 29.8 589.6 29.2 590.9 28.7 592.2 28.1 593.4 27.5 594.7 26.9 596 26.3 597.3 25.7" stroke="#2e8b22" stroke-width="2.9" fill="none" stroke-linecap="round" stroke-linejoin="round"/><path d="M506.5 43.2 507.8 44.4 509 45.5 510.3 46.5 511.6 47.6 512.9 48.6 514.1 49.7 515.4 50.7 516.7 51.6 518 52.6 519.2 53.5 520.5 54.4 521.8 55.3 523 56.1 524.3 57 525.6 57.8 526.9 58.6 528.1 59.4 529.4 60.2 530.7 60.9 532 61.7 533.2 62.4 534.5 63 535.8 63.7 537.1 64.3 538.3 64.8 539.6 65.4 540.9 66 542.1 66.5 543.4 67 544.7 67.5 546 68.1 547.2 68.6 548.5 69.1 549.8 69.6 551.1 70.1 552.3 70.6 553.6 71.1 554.9 71.6 556.1 72 557.4 72.5 558.7 73 560 73.5 561.2 74 562.5 74.5 563.8 75 565.1 75.5 566.3 76 567.6 76.5 568.9 77 570.1 77.5 571.4 78 572.7 78.5 574 79.1 575.2 79.7 576.5 80.3 577.8 81 579.1 81.7 580.3 82.4 581.6 83.3 582.9 84.2 584.2 85.3 585.4 86.7 586.1 87.5 586.7 88.4 587.3 89.6 588 90.9 588.6 92.3 589.2 93.9 589.9 95.7 590.5 97.6 591.2 100M591.8 102.7h0M592.4 106h0M593.1 110h0M593.7 115.9h0M594.3 122.7h0M595 130h0M595.6 138.1h0" stroke="#2e8b22" stroke-width="2.9" fill="none" stroke-linecap="round" stroke-linejoin="round"/><path d="M506.5 53.8 508 53.4 509.5 53 510.9 52.6 512.4 52.2 513.9 51.8 515.4 51.4 516.8 51 518.3 50.6 519.8 50.2 521.3 49.9 522.8 49.5 524.2 49.2 525.7 48.9 527.2 48.5 528.7 48.2 530.1 47.8 531.6 47.5 533.1 47.1 534.6 46.7 536.1 46.2 537.5 45.7 539 45.2 540.5 44.7 542 44.2 543.4 43.6 544.9 43 546.4 42.4 547.9 41.8 549.4 41.2 550.8 40.6 552.3 40 553.8 39.3 555.3 38.6 556.7 37.9 558.2 37.2 559.7 36.5 561.2 35.8 562.7 35.2 564.1 34.5 565.6 33.8 567.1 33.2 568.6 32.5 570 31.9 571.5 31.3 573 30.6 574.5 30 576 29.4 577.4 28.8 578.9 28.2 580.4 27.6 581.9 27 583.3 26.5 584.8 25.9" stroke="#f03c96" stroke-width="2.9" fill="none" stroke-linecap="round" stroke-linejoin="round"/><path d="M506.5 51.7 507.2 52.3 508 52.9 508.7 53.5 509.5 54.1 510.2 54.7 510.9 55.3 511.7 55.9 512.4 56.5 513.2 57.1 513.9 57.7 514.6 58.2 515.4 58.8 516.1 59.3 516.9 59.9 517.6 60.4 518.3 61 519.1 61.5 519.8 62 521.3 63 522.8 64 524.2 65 525.7 66 527.2 66.9 528.7 67.8 530.2 68.7 531.6 69.6 533.1 70.4 534.6 71.2 536.1 71.9 537.6 72.6 539 73.2 540.5 73.8 542 74.4 543.5 75 545 75.7 546.4 76.3 547.9 76.9 549.4 77.5 550.9 78.2 552.4 78.8 553.8 79.4 555.3 80 556.8 80.7 558.3 81.3 559.7 82 561.2 82.8 562.7 83.6 564.2 84.4 565.7 85.4 567.1 86.4 567.9 87 568.6 87.6 569.4 88.2 570.1 88.9 570.8 89.7 571.6 90.5 572.3 91.4 573.1 92.4 573.8 93.5 574.5 94.7 575.3 96 576 97.4 576.8 98.9 577.5 100.4 578.2 102.2 579 104.1 579.7 106.3 580.5 108.8M581.2 111.7h0M581.9 115.3h0M582.7 119.5h0M583.4 125.2h0M584.2 131.5h0M584.9 138.1h0" stroke="#f03c96" stroke-width="2.9" fill="none" stroke-linecap="round" stroke-linejoin="round"/><circle cx="507" cy="79.7" r="1.3" fill="#1818f0"/><circle cx="507" cy="98.5" r="1.3" fill="#f01010"/><circle cx="507" cy="111" r="1.3" fill="#000"/><circle cx="521.6" cy="89.2" r="1.5" fill="#000"/><text x="532.7" y="92.4" font-size="9.2">0.2C</text><circle cx="521.6" cy="100" r="1.5" fill="#f01010"/><text x="532.7" y="103.2" font-size="9.2">0.5C</text><circle cx="521.6" cy="110.8" r="1.5" fill="#1818f0"/><text x="532.7" y="114" font-size="9.2">1C</text><circle cx="521.6" cy="121.6" r="1.5" fill="#f040f0"/><text x="532.7" y="124.8" font-size="9.2">2C</text><circle cx="521.6" cy="132.4" r="1.5" fill="#2e8b22"/><text x="532.7" y="135.6" font-size="9.2">3C</text><circle cx="521.6" cy="143.2" r="1.5" fill="#f03c96"/><text x="532.7" y="146.4" font-size="9.2">5C</text><text x="462" y="200.2" font-size="20" font-weight="bold" fill="#000">e</text><rect x="505.4" y="195.8" width="169.6" height="141.1" fill="none" stroke="#555" stroke-width="0.8"/><line x1="505.4" y1="336.9" x2="505.4" y2="339.4" stroke="#555" stroke-width="0.8"/><text x="505.4" y="348.3" font-size="9.6" text-anchor="middle">0</text><line x1="547.8" y1="336.9" x2="547.8" y2="339.4" stroke="#555" stroke-width="0.8"/><text x="547.8" y="348.3" font-size="9.6" text-anchor="middle">50</text><line x1="590.2" y1="336.9" x2="590.2" y2="339.4" stroke="#555" stroke-width="0.8"/><text x="590.2" y="348.3" font-size="9.6" text-anchor="middle">100</text><line x1="632.6" y1="336.9" x2="632.6" y2="339.4" stroke="#555" stroke-width="0.8"/><text x="632.6" y="348.3" font-size="9.6" text-anchor="middle">150</text><line x1="675" y1="336.9" x2="675" y2="339.4" stroke="#555" stroke-width="0.8"/><text x="675" y="348.3" font-size="9.6" text-anchor="middle">200</text><line x1="526.6" y1="336.9" x2="526.6" y2="338.4" stroke="#555" stroke-width="0.8"/><line x1="569" y1="336.9" x2="569" y2="338.4" stroke="#555" stroke-width="0.8"/><line x1="611.4" y1="336.9" x2="611.4" y2="338.4" stroke="#555" stroke-width="0.8"/><line x1="653.8" y1="336.9" x2="653.8" y2="338.4" stroke="#555" stroke-width="0.8"/><line x1="505.4" y1="336.9" x2="502.9" y2="336.9" stroke="#555" stroke-width="0.8"/><text x="501" y="340.1" font-size="9.6" text-anchor="end">2.5</text><line x1="505.4" y1="301.6" x2="502.9" y2="301.6" stroke="#555" stroke-width="0.8"/><text x="501" y="304.8" font-size="9.6" text-anchor="end">3.0</text><line x1="505.4" y1="266.3" x2="502.9" y2="266.3" stroke="#555" stroke-width="0.8"/><text x="501" y="269.5" font-size="9.6" text-anchor="end">3.5</text><line x1="505.4" y1="231.1" x2="502.9" y2="231.1" stroke="#555" stroke-width="0.8"/><text x="501" y="234.3" font-size="9.6" text-anchor="end">4.0</text><line x1="505.4" y1="195.8" x2="502.9" y2="195.8" stroke="#555" stroke-width="0.8"/><text x="501" y="199" font-size="9.6" text-anchor="end">4.5</text><line x1="505.4" y1="319.3" x2="503.9" y2="319.3" stroke="#555" stroke-width="0.8"/><line x1="505.4" y1="284" x2="503.9" y2="284" stroke="#555" stroke-width="0.8"/><line x1="505.4" y1="248.7" x2="503.9" y2="248.7" stroke="#555" stroke-width="0.8"/><line x1="505.4" y1="213.4" x2="503.9" y2="213.4" stroke="#555" stroke-width="0.8"/><text x="590" y="362.5" font-size="10.5" text-anchor="middle">Specific capacity (mAh·g<tspan dy="-4" font-size="7.1">-1</tspan><tspan dy="4">)</tspan></text><text x="483.5" y="265" font-size="10.5" text-anchor="middle" transform="rotate(-90 483.5 265)">Voltage (V)</text><text x="541.9" y="214.3" font-size="8.8">Li-PF-COF</text><path d="M505.4 252.6 506.4 252.4 507.4 252.2 508.4 252 509.4 251.9 510.5 251.7 511.5 251.5 512.5 251.3 513.5 251.1 514.5 250.9 515.5 250.7 516.5 250.5 517.5 250.3 518.5 250.2 519.6 250 520.6 249.8 521.6 249.6 522.6 249.4 523.6 249.2 524.6 249 525.6 248.8 526.6 248.6 527.6 248.4 528.7 248.2 529.7 248 530.7 247.8 531.7 247.6 532.7 247.4 533.7 247.2 534.7 247 535.7 246.8 536.8 246.6 537.8 246.4 538.8 246.2 539.8 246 540.8 245.8 541.8 245.6 542.8 245.4 543.8 245.2 544.8 245 545.9 244.7 546.9 244.5 547.9 244.3 548.9 244.1 549.9 243.9 550.9 243.7 551.9 243.5 552.9 243.2 553.9 243 555 242.8 556 242.6 557 242.4 558 242.1 559 241.9 560 241.7 561 241.5 562 241.2 563 241 564.1 240.8 565.1 240.5 566.1 240.3 567.1 240.1 568.1 239.8 569.1 239.6 570.1 239.3 571.1 239.1 572.1 238.9 573.2 238.6 574.2 238.4 575.2 238.1 576.2 237.9 577.2 237.6 578.2 237.4 579.2 237.1 580.2 236.9 581.3 236.6 582.3 236.4 583.3 236.1 584.3 235.9 585.3 235.6 586.3 235.3 587.3 235.1 588.3 234.8 589.3 234.6 590.4 234.3 591.4 234 592.4 233.8 593.4 233.5 594.4 233.2 595.4 233 596.4 232.7 597.4 232.4 598.4 232.2 599.5 231.9 600.5 231.6 601.5 231.3 602.5 231 603.5 230.7 604.5 230.4 605.5 230.1 606.5 229.8 607.5 229.5 608.6 229.2 609.6 228.9 610.6 228.6 611.6 228.3 612.6 228 613.6 227.7 614.6 227.3 615.6 227 616.6 226.7 617.7 226.3 618.7 226 619.7 225.7 620.7 225.3 621.7 225 622.7 224.6 623.7 224.3 624.7 223.9 625.8 223.5 626.8 223.2 627.8 222.8 628.8 222.5 629.8 222.1 630.8 221.7 631.8 221.3 632.8 220.9 633.8 220.5 634.9 220.2 635.9 219.8 636.9 219.4 637.9 219 638.9 218.5 639.9 218.1 640.9 217.7 641.9 217.3 642.9 216.9 644 216.5 645 216.1 646 215.7 647 215.3 648 214.9 649 214.4 650 213.9 651 213.4 652 212.8 653.1 212.2 654.1 211.6 655.1 210.9 656.1 210.3" stroke="#000" stroke-width="2.8" fill="none" stroke-linecap="round" stroke-linejoin="round"/><path d="M505.4 218.4 506.8 219 508.2 219.6 509.6 220.2 511 220.7 512.4 221.3 513.8 221.9 515.2 222.4 516.6 223 518 223.5 519.4 224 520.8 224.5 522.2 225.1 523.6 225.6 525 226.2 526.4 226.8 527.8 227.4 529.2 228.1 530.6 228.8 532.1 229.5 533.5 230.2 534.9 230.9 536.3 231.6 537.7 232.4 539.1 233.1 540.5 233.8 541.9 234.5 543.3 235.3 544.7 236.1 546.1 236.9 547.5 237.6 548.9 238.3 550.3 239 551.7 239.6 553.1 240.1 554.5 240.5 555.9 240.8 557.3 241.1 558.7 241.5 560.1 241.8 561.5 242 562.9 242.3 564.3 242.5 565.7 242.8 567.1 243 568.5 243.2 569.9 243.4 571.3 243.6 572.7 243.8 574.1 244 575.5 244.3 576.9 244.5 578.3 244.7 579.7 245 581.1 245.2 582.6 245.5 584 245.8 585.4 246.1 586.8 246.4 588.2 246.7 589.6 246.9 591 247.2 592.4 247.5 593.8 247.8 595.2 248.1 596.6 248.4 598 248.7 599.4 249 600.8 249.3 602.2 249.6 603.6 249.9 605 250.2 606.4 250.5 607.8 250.8 609.2 251.1 610.6 251.3 612 251.6 613.4 251.8 614.8 252.1 616.2 252.3 617.6 252.5 619 252.8 620.4 253 621.8 253.3 623.2 253.6 624.6 253.8 626 254.2 627.4 254.5 628.8 254.8 630.2 255.2 631.6 255.6 633.1 256.1 634.5 256.6 635.9 257.1 637.3 257.7 638.7 258.4 640.1 259.1 641.5 259.9 642.9 260.8 644.3 261.8 645.7 263.1 647.1 264.7 648.5 266.7M649.9 269.1h0M651.3 273.5h0M652.7 279.5h0M654.1 296.7h0M655.5 322.1h0" stroke="#000" stroke-width="2.8" fill="none" stroke-linecap="round" stroke-linejoin="round"/><path d="M505.4 251.5 506.4 251.4 507.3 251.2 508.3 251 509.2 250.8 510.2 250.6 511.1 250.5 512.1 250.3 513 250.1 514 249.9 514.9 249.7 515.9 249.6 516.8 249.4 517.8 249.2 518.7 249 519.7 248.8 520.6 248.6 521.6 248.4 522.6 248.2 523.5 248.1 524.5 247.9 525.4 247.7 526.4 247.5 527.3 247.3 528.3 247.1 529.2 246.9 530.2 246.7 531.1 246.5 532.1 246.3 533 246.1 534 246 534.9 245.8 535.9 245.6 536.8 245.4 537.8 245.2 538.8 245 539.7 244.8 540.7 244.6 541.6 244.4 542.6 244.2 543.5 244 544.5 243.8 545.4 243.6 546.4 243.4 547.3 243.1 548.3 242.9 549.2 242.7 550.2 242.5 551.1 242.3 552.1 242.1 553 241.9 554 241.7 555 241.4 555.9 241.2 556.9 241 557.8 240.8 558.8 240.6 559.7 240.3 560.7 240.1 561.6 239.9 562.6 239.7 563.5 239.4 564.5 239.2 565.4 239 566.4 238.7 567.3 238.5 568.3 238.3 569.2 238 570.2 237.8 571.2 237.6 572.1 237.3 573.1 237.1 574 236.8 575 236.6 575.9 236.3 576.9 236.1 577.8 235.9 578.8 235.6 579.7 235.4 580.7 235.1 581.6 234.9 582.6 234.6 583.5 234.4 584.5 234.1 585.4 233.8 586.4 233.6 587.4 233.3 588.3 233.1 589.3 232.8 590.2 232.5 591.2 232.3 592.1 232 593.1 231.7 594 231.5 595 231.2 595.9 230.9 596.9 230.6 597.8 230.4 598.8 230.1 599.7 229.8 600.7 229.5 601.6 229.2 602.6 228.9 603.6 228.6 604.5 228.3 605.5 228 606.4 227.7 607.4 227.4 608.3 227 609.3 226.7 610.2 226.4 611.2 226.1 612.1 225.7 613.1 225.4 614 225.1 615 224.7 615.9 224.4 616.9 224 617.8 223.7 618.8 223.3 619.8 223 620.7 222.6 621.7 222.3 622.6 221.9 623.6 221.5 624.5 221.2 625.5 220.8 626.4 220.4 627.4 220 628.3 219.6 629.3 219.2 630.2 218.8 631.2 218.4 632.1 218 633.1 217.6 634 217.2 635 216.8 636 216.5 636.9 216.1 637.9 215.7 638.8 215.3 639.8 214.8 640.7 214.4 641.7 213.9 642.6 213.3 643.6 212.8 644.5 212.2 645.5 211.6 646.4 210.9 647.4 210.3" stroke="#f01010" stroke-width="2.8" fill="none" stroke-linecap="round" stroke-linejoin="round"/><path d="M505.4 219.1 506.8 219.9 508.2 220.7 509.6 221.4 511 222.2 512.4 223 513.8 223.7 515.3 224.4 516.7 225.2 518.1 225.9 519.5 226.6 520.9 227.3 522.3 228 523.7 228.6 525.1 229.3 526.5 229.9 527.9 230.6 529.3 231.2 530.7 231.8 532.1 232.4 533.5 233 535 233.6 536.4 234.2 537.8 234.7 539.2 235.3 540.6 235.8 542 236.3 543.4 236.8 544.8 237.3 546.2 237.8 547.6 238.3 549 238.8 550.4 239.2 551.8 239.7 553.2 240.1 554.7 240.5 556.1 240.9 557.5 241.3 558.9 241.7 560.3 242 561.7 242.4 563.1 242.7 564.5 243 565.9 243.4 567.3 243.7 568.7 244 570.1 244.3 571.5 244.6 573 244.9 574.4 245.2 575.8 245.5 577.2 245.8 578.6 246.1 580 246.4 581.4 246.7 582.8 247 584.2 247.3 585.6 247.6 587 247.9 588.4 248.2 589.8 248.5 591.2 248.7 592.7 249 594.1 249.3 595.5 249.6 596.9 249.9 598.3 250.1 599.7 250.4 601.1 250.7 602.5 251 603.9 251.3 605.3 251.6 606.7 252 608.1 252.3 609.5 252.6 611 252.9 612.4 253.2 613.8 253.5 615.2 253.8 616.6 254.1 618 254.5 619.4 254.9 620.8 255.3 622.2 255.7 623.6 256.3 625 256.9 626.4 257.7 627.8 258.7 629.2 259.8 630.7 261.3 632.1 263.3M633.5 266.1h0M634.9 269.8h0M636.3 274.5h0M637.7 279.8h0M639.1 285.9h0M640.5 292.4h0M641.9 300h0M643.3 309.7h0M644.7 321.4h0" stroke="#f01010" stroke-width="2.8" fill="none" stroke-linecap="round" stroke-linejoin="round"/><path d="M505.4 250.8 506.3 250.7 507.2 250.5 508.1 250.3 509 250.1 509.9 250 510.8 249.8 511.8 249.6 512.7 249.4 513.6 249.3 514.5 249.1 515.4 248.9 516.3 248.7 517.2 248.5 518.1 248.4 519 248.2 519.9 248 520.8 247.8 521.7 247.6 522.6 247.4 523.6 247.3 524.5 247.1 525.4 246.9 526.3 246.7 527.2 246.5 528.1 246.3 529 246.1 529.9 246 530.8 245.8 531.7 245.6 532.6 245.4 533.5 245.2 534.4 245 535.3 244.8 536.3 244.6 537.2 244.4 538.1 244.2 539 244 539.9 243.8 540.8 243.6 541.7 243.5 542.6 243.3 543.5 243.1 544.4 242.9 545.3 242.6 546.2 242.4 547.1 242.2 548.1 242 549 241.8 549.9 241.6 550.8 241.4 551.7 241.2 552.6 241 553.5 240.8 554.4 240.6 555.3 240.3 556.2 240.1 557.1 239.9 558 239.7 558.9 239.5 559.9 239.2 560.8 239 561.7 238.8 562.6 238.6 563.5 238.3 564.4 238.1 565.3 237.9 566.2 237.6 567.1 237.4 568 237.2 568.9 236.9 569.8 236.7 570.7 236.5 571.7 236.2 572.6 236 573.5 235.7 574.4 235.5 575.3 235.3 576.2 235 577.1 234.8 578 234.5 578.9 234.3 579.8 234 580.7 233.8 581.6 233.5 582.5 233.3 583.5 233 584.4 232.8 585.3 232.5 586.2 232.3 587.1 232 588 231.7 588.9 231.5 589.8 231.2 590.7 230.9 591.6 230.7 592.5 230.4 593.4 230.1 594.3 229.8 595.2 229.6 596.2 229.3 597.1 229 598 228.7 598.9 228.4 599.8 228.1 600.7 227.8 601.6 227.5 602.5 227.2 603.4 226.8 604.3 226.5 605.2 226.2 606.1 225.9 607 225.6 608 225.2 608.9 224.9 609.8 224.6 610.7 224.2 611.6 223.9 612.5 223.5 613.4 223.2 614.3 222.8 615.2 222.5 616.1 222.1 617 221.8 617.9 221.4 618.8 221 619.8 220.7 620.7 220.3 621.6 219.9 622.5 219.5 623.4 219.1 624.3 218.7 625.2 218.3 626.1 217.9 627 217.6 627.9 217.2 628.8 216.8 629.7 216.4 630.6 216 631.6 215.6 632.5 215.2 633.4 214.8 634.3 214.3 635.2 213.8 636.1 213.3 637 212.8 637.9 212.2 638.8 211.6 639.7 210.9 640.6 210.2" stroke="#1818f0" stroke-width="2.8" fill="none" stroke-linecap="round" stroke-linejoin="round"/><path d="M505.4 220.1 506.8 221 508.2 221.8 509.6 222.6 511 223.4 512.4 224.1 513.8 224.9 515.2 225.7 516.6 226.4 518 227.1 519.4 227.9 520.8 228.6 522.2 229.3 523.6 230 525 230.6 526.4 231.3 527.8 231.9 529.2 232.6 530.6 233.2 532 233.8 533.4 234.4 534.8 235 536.2 235.6 537.6 236.2 539 236.7 540.4 237.3 541.8 237.8 543.2 238.3 544.6 238.8 546 239.3 547.4 239.8 548.8 240.3 550.2 240.7 551.6 241.2 553 241.6 554.4 242 555.8 242.4 557.2 242.8 558.6 243.2 560 243.5 561.4 243.9 562.8 244.2 564.2 244.5 565.6 244.8 567 245.2 568.4 245.5 569.8 245.8 571.2 246.1 572.6 246.4 574 246.7 575.4 247 576.8 247.3 578.3 247.6 579.7 248 581.1 248.3 582.5 248.6 583.9 248.9 585.3 249.2 586.7 249.5 588.1 249.8 589.5 250 590.9 250.3 592.3 250.6 593.7 250.9 595.1 251.2 596.5 251.5 597.9 251.8 599.3 252.1 600.7 252.4 602.1 252.7 603.5 253.1 604.9 253.4 606.3 253.7 607.7 254 609.1 254.3 610.5 254.7 611.9 255 613.3 255.3 614.7 255.7 616.1 256.1 617.5 256.6 618.9 257.1 620.3 257.7 621.7 258.4 623.1 259.3 624.5 260.5 625.9 261.8 627.3 263.6M628.7 266.4h0M630.1 269.9h0M631.5 274.5h0M632.9 279.7h0M634.3 285.8h0M635.7 292.3h0M637.1 299.9h0M638.5 309.6h0M639.9 321.4h0" stroke="#1818f0" stroke-width="2.8" fill="none" stroke-linecap="round" stroke-linejoin="round"/><path d="M505.4 250.1 506.3 250 507.2 249.8 508.1 249.6 509 249.4 509.9 249.3 510.8 249.1 511.7 248.9 512.6 248.8 513.4 248.6 514.3 248.4 515.2 248.2 516.1 248.1 517 247.9 517.9 247.7 518.8 247.5 519.7 247.4 520.6 247.2 521.5 247 522.4 246.8 523.3 246.6 524.2 246.5 525.1 246.3 526 246.1 526.9 245.9 527.7 245.7 528.6 245.6 529.5 245.4 530.4 245.2 531.3 245 532.2 244.8 533.1 244.6 534 244.5 534.9 244.3 535.8 244.1 536.7 243.9 537.6 243.7 538.5 243.5 539.4 243.3 540.3 243.1 541.2 242.9 542.1 242.7 542.9 242.5 543.8 242.3 544.7 242.2 545.6 242 546.5 241.8 547.4 241.5 548.3 241.3 549.2 241.1 550.1 240.9 551 240.7 551.9 240.5 552.8 240.3 553.7 240.1 554.6 239.9 555.5 239.7 556.4 239.5 557.2 239.2 558.1 239 559 238.8 559.9 238.6 560.8 238.4 561.7 238.1 562.6 237.9 563.5 237.7 564.4 237.5 565.3 237.3 566.2 237 567.1 236.8 568 236.6 568.9 236.3 569.8 236.1 570.7 235.9 571.6 235.6 572.4 235.4 573.3 235.2 574.2 234.9 575.1 234.7 576 234.4 576.9 234.2 577.8 234 578.7 233.7 579.6 233.5 580.5 233.2 581.4 233 582.3 232.7 583.2 232.5 584.1 232.2 585 232 585.9 231.7 586.7 231.5 587.6 231.2 588.5 230.9 589.4 230.7 590.3 230.4 591.2 230.1 592.1 229.9 593 229.6 593.9 229.3 594.8 229 595.7 228.7 596.6 228.5 597.5 228.2 598.4 227.9 599.3 227.6 600.2 227.3 601.1 227 601.9 226.6 602.8 226.3 603.7 226 604.6 225.7 605.5 225.4 606.4 225.1 607.3 224.7 608.2 224.4 609.1 224.1 610 223.7 610.9 223.4 611.8 223 612.7 222.7 613.6 222.3 614.5 222 615.4 221.6 616.2 221.3 617.1 220.9 618 220.6 618.9 220.2 619.8 219.8 620.7 219.4 621.6 219 622.5 218.6 623.4 218.3 624.3 217.9 625.2 217.5 626.1 217.1 627 216.7 627.9 216.3 628.8 216 629.7 215.6 630.6 215.2 631.4 214.7 632.3 214.3 633.2 213.8 634.1 213.3 635 212.7 635.9 212.1 636.8 211.5 637.7 210.9 638.6 210.2" stroke="#2e8b22" stroke-width="2.8" fill="none" stroke-linecap="round" stroke-linejoin="round"/><path d="M505.4 221.2 506.8 222 508.2 222.9 509.6 223.7 511 224.5 512.5 225.3 513.9 226.1 515.3 226.9 516.7 227.6 518.1 228.4 519.5 229.1 520.9 229.9 522.3 230.6 523.7 231.3 525.2 232 526.6 232.7 528 233.3 529.4 234 530.8 234.6 532.2 235.3 533.6 235.9 535 236.5 536.5 237.1 537.9 237.7 539.3 238.2 540.7 238.8 542.1 239.3 543.5 239.8 544.9 240.3 546.3 240.8 547.7 241.3 549.2 241.8 550.6 242.2 552 242.7 553.4 243.1 554.8 243.5 556.2 243.9 557.6 244.3 559 244.6 560.4 245 561.9 245.3 563.3 245.7 564.7 246 566.1 246.3 567.5 246.7 568.9 247 570.3 247.3 571.7 247.6 573.2 247.9 574.6 248.3 576 248.6 577.4 248.9 578.8 249.2 580.2 249.5 581.6 249.9 583 250.2 584.4 250.5 585.9 250.8 587.3 251.1 588.7 251.4 590.1 251.7 591.5 252 592.9 252.3 594.3 252.6 595.7 252.9 597.1 253.2 598.6 253.5 600 253.9 601.4 254.2 602.8 254.5 604.2 254.9 605.6 255.2 607 255.5 608.4 255.8 609.9 256.2 611.3 256.5 612.7 256.9 614.1 257.4 615.5 257.9 616.9 258.4 618.3 259.1 619.7 260 621.1 261.1 622.6 262.4 624 264.1M625.4 266.6h0M626.8 270h0M628.2 274.5h0M629.6 279.7h0M631 285.7h0M632.4 292.2h0M633.8 299.8h0M635.3 309.5h0M636.7 321.4h0" stroke="#2e8b22" stroke-width="2.8" fill="none" stroke-linecap="round" stroke-linejoin="round"/><path d="M505.4 249.1 506.7 248.8 507.9 248.6 509.2 248.3 510.5 248.1 511.8 247.8 513 247.6 514.3 247.3 515.6 247.1 516.9 246.8 518.1 246.6 519.4 246.3 520.7 246.1 521.9 245.8 523.2 245.6 524.5 245.3 525.8 245 527 244.8 528.3 244.5 529.6 244.2 530.9 244 532.1 243.7 533.4 243.4 534.7 243.2 535.9 242.9 537.2 242.6 538.5 242.3 539.8 242.1 541 241.8 542.3 241.5 543.6 241.2 544.9 240.9 546.1 240.6 547.4 240.3 548.7 240 549.9 239.7 551.2 239.4 552.5 239.1 553.8 238.8 555 238.5 556.3 238.2 557.6 237.9 558.9 237.5 560.1 237.2 561.4 236.9 562.7 236.6 564 236.2 565.2 235.9 566.5 235.6 567.8 235.2 569 234.9 570.3 234.5 571.6 234.2 572.9 233.8 574.1 233.5 575.4 233.1 576.7 232.8 578 232.4 579.2 232 580.5 231.7 581.8 231.3 583 230.9 584.3 230.5 585.6 230.2 586.9 229.8 588.1 229.4 589.4 229 590.7 228.5 592 228.1 593.2 227.7 594.5 227.3 595.8 226.8 596.6 226.5 597.5 226.2 598.3 225.9 599.2 225.6 600 225.3 600.9 225 601.7 224.6 602.6 224.3 603.4 224 604.3 223.7 605.1 223.3 606 223 606.8 222.7 607.7 222.3 608.5 222 609.3 221.6 610.2 221.3 611 220.9 611.9 220.6 612.7 220.2 613.6 219.8 614.4 219.5 615.3 219.1 616.1 218.7 617 218.3 617.8 217.9 618.7 217.6 619.5 217.2 620.4 216.8 621.2 216.4 622.1 216.1 622.9 215.7 623.8 215.3 624.6 214.9 625.5 214.5 626.3 214 627.2 213.5 628 213 628.9 212.4 629.7 211.8 630.6 211.2 631.4 210.6 632.3 209.9" stroke="#f040f0" stroke-width="2.8" fill="none" stroke-linecap="round" stroke-linejoin="round"/><path d="M505.4 222.6 506.8 223.5 508.2 224.4 509.6 225.3 511.1 226.1 512.5 227 513.9 227.8 515.3 228.6 516.7 229.4 518.1 230.2 519.5 231 521 231.7 522.4 232.5 523.8 233.2 525.2 233.9 526.6 234.6 528 235.3 529.4 236 530.9 236.7 532.3 237.3 533.7 238 535.1 238.6 536.5 239.2 537.9 239.8 539.4 240.4 540.8 240.9 542.2 241.5 543.6 242 545 242.5 546.4 243 547.8 243.5 549.3 244 550.7 244.4 552.1 244.9 553.5 245.3 554.9 245.7 556.3 246.1 557.7 246.4 559.2 246.8 560.6 247.2 562 247.5 563.4 247.9 564.8 248.2 566.2 248.5 567.6 248.9 569.1 249.2 570.5 249.5 571.9 249.9 573.3 250.2 574.7 250.6 576.1 250.9 577.5 251.2 579 251.6 580.4 251.9 581.8 252.2 583.2 252.5 584.6 252.8 586 253.1 587.4 253.5 588.9 253.8 590.3 254.1 591.7 254.4 593.1 254.8 594.5 255.1 595.9 255.5 597.4 255.9 598.8 256.2 600.2 256.5 601.6 256.9 603 257.2 604.4 257.6 605.8 258 607.3 258.4 608.7 258.9 610.1 259.4 611.5 260 612.9 260.8 614.3 261.8 615.7 263.1 617.2 264.6 618.6 266.8M620 269.9h0M621.4 274.1h0M622.8 279.3h0M624.2 285.2h0M625.6 291.9h0M627.1 299.4h0M628.5 309.1h0M629.9 321.4h0" stroke="#f040f0" stroke-width="2.8" fill="none" stroke-linecap="round" stroke-linejoin="round"/><circle cx="506" cy="211.8" r="1.2" fill="#2e8b22"/><circle cx="506" cy="215.5" r="1.2" fill="#2e8b22"/><circle cx="506" cy="259.5" r="1.2" fill="#2e8b22"/><circle cx="506" cy="262" r="1.2" fill="#888"/><circle cx="529.2" cy="281.8" r="1.6" fill="#000"/><text x="540.2" y="284.8" font-size="8.6">10th</text><circle cx="529.2" cy="291.8" r="1.6" fill="#f01010"/><text x="540.2" y="294.8" font-size="8.6">100th</text><circle cx="529.2" cy="301.8" r="1.6" fill="#1818f0"/><text x="540.2" y="304.8" font-size="8.6">150th</text><circle cx="529.2" cy="311.8" r="1.6" fill="#2e8b22"/><text x="540.2" y="314.8" font-size="8.6">170th</text><circle cx="529.2" cy="321.8" r="1.6" fill="#f040f0"/><text x="540.2" y="324.8" font-size="8.6">200th</text><text x="1.5" y="197.5" font-size="20" font-weight="bold" fill="#000">d</text><line x1="56.1" y1="194.9" x2="425.3" y2="194.9" stroke="#666" stroke-width="0.8"/><line x1="56.1" y1="194.9" x2="56.1" y2="335.3" stroke="#555" stroke-width="0.8"/><line x1="56.1" y1="335.3" x2="425.3" y2="335.3" stroke="#555" stroke-width="0.8"/><line x1="425.3" y1="194.9" x2="425.3" y2="335.3" stroke="#6ab85a" stroke-width="0.9"/><line x1="56.1" y1="335.3" x2="56.1" y2="338.3" stroke="#555" stroke-width="0.8"/><text x="56.1" y="350.8" font-size="9.9" text-anchor="middle">0</text><line x1="148.4" y1="335.3" x2="148.4" y2="338.3" stroke="#555" stroke-width="0.8"/><text x="148.4" y="350.8" font-size="9.9" text-anchor="middle">50</text><line x1="240.7" y1="335.3" x2="240.7" y2="338.3" stroke="#555" stroke-width="0.8"/><text x="240.7" y="350.8" font-size="9.9" text-anchor="middle">100</text><line x1="333" y1="335.3" x2="333" y2="338.3" stroke="#555" stroke-width="0.8"/><text x="333" y="350.8" font-size="9.9" text-anchor="middle">150</text><line x1="425.3" y1="335.3" x2="425.3" y2="338.3" stroke="#555" stroke-width="0.8"/><text x="425.3" y="350.8" font-size="9.9" text-anchor="middle">200</text><line x1="102.2" y1="335.3" x2="102.2" y2="336.8" stroke="#555" stroke-width="0.8"/><line x1="194.6" y1="335.3" x2="194.6" y2="336.8" stroke="#555" stroke-width="0.8"/><line x1="286.9" y1="335.3" x2="286.9" y2="336.8" stroke="#555" stroke-width="0.8"/><line x1="379.2" y1="335.3" x2="379.2" y2="336.8" stroke="#555" stroke-width="0.8"/><line x1="56.1" y1="335.3" x2="53.1" y2="335.3" stroke="#555" stroke-width="0.8"/><text x="49.8" y="338.8" font-size="9.9" text-anchor="end">0</text><line x1="56.1" y1="307.2" x2="53.1" y2="307.2" stroke="#555" stroke-width="0.8"/><text x="49.8" y="310.7" font-size="9.9" text-anchor="end">50</text><line x1="56.1" y1="279.1" x2="53.1" y2="279.1" stroke="#555" stroke-width="0.8"/><text x="49.8" y="282.6" font-size="9.9" text-anchor="end">100</text><line x1="56.1" y1="251.1" x2="53.1" y2="251.1" stroke="#555" stroke-width="0.8"/><text x="49.8" y="254.6" font-size="9.9" text-anchor="end">150</text><line x1="56.1" y1="223" x2="53.1" y2="223" stroke="#555" stroke-width="0.8"/><text x="49.8" y="226.5" font-size="9.9" text-anchor="end">200</text><line x1="56.1" y1="194.9" x2="53.1" y2="194.9" stroke="#555" stroke-width="0.8"/><text x="49.8" y="198.4" font-size="9.9" text-anchor="end">250</text><line x1="56.1" y1="321.3" x2="54.6" y2="321.3" stroke="#555" stroke-width="0.8"/><line x1="56.1" y1="293.2" x2="54.6" y2="293.2" stroke="#555" stroke-width="0.8"/><line x1="56.1" y1="265.1" x2="54.6" y2="265.1" stroke="#555" stroke-width="0.8"/><line x1="56.1" y1="237" x2="54.6" y2="237" stroke="#555" stroke-width="0.8"/><line x1="56.1" y1="208.9" x2="54.6" y2="208.9" stroke="#555" stroke-width="0.8"/><line x1="425.3" y1="335.3" x2="428.3" y2="335.3" stroke="#6ab85a" stroke-width="0.8"/><text x="431" y="338.7" font-size="9.4" fill="#3c9a32">0</text><line x1="425.3" y1="309.8" x2="428.3" y2="309.8" stroke="#6ab85a" stroke-width="0.8"/><text x="431" y="313.2" font-size="9.4" fill="#3c9a32">20</text><line x1="425.3" y1="284.2" x2="428.3" y2="284.2" stroke="#6ab85a" stroke-width="0.8"/><text x="431" y="287.6" font-size="9.4" fill="#3c9a32">40</text><line x1="425.3" y1="258.7" x2="428.3" y2="258.7" stroke="#6ab85a" stroke-width="0.8"/><text x="431" y="262.1" font-size="9.4" fill="#3c9a32">60</text><line x1="425.3" y1="233.1" x2="428.3" y2="233.1" stroke="#6ab85a" stroke-width="0.8"/><text x="431" y="236.5" font-size="9.4" fill="#3c9a32">80</text><line x1="425.3" y1="207.6" x2="428.3" y2="207.6" stroke="#6ab85a" stroke-width="0.8"/><text x="431" y="211" font-size="9.4" fill="#3c9a32">100</text><line x1="425.3" y1="322.5" x2="426.8" y2="322.5" stroke="#6ab85a" stroke-width="0.8"/><line x1="425.3" y1="297" x2="426.8" y2="297" stroke="#6ab85a" stroke-width="0.8"/><line x1="425.3" y1="271.5" x2="426.8" y2="271.5" stroke="#6ab85a" stroke-width="0.8"/><line x1="425.3" y1="245.9" x2="426.8" y2="245.9" stroke="#6ab85a" stroke-width="0.8"/><line x1="425.3" y1="220.4" x2="426.8" y2="220.4" stroke="#6ab85a" stroke-width="0.8"/><text x="241" y="361.3" font-size="12.4" text-anchor="middle">Cycle number</text><text x="26.3" y="265.5" font-size="12.4" text-anchor="middle" transform="rotate(-90 26.3 265.5)">Discharge capacity (mAh·g<tspan dy="-4.7" font-size="8.4">-1</tspan><tspan dy="4.7">)</tspan></text><text x="461.5" y="265" font-size="12.6" text-anchor="middle" fill="#3c9a32" transform="rotate(-90 461.5 265)">Coulombic efficiency%</text><path d="M55.1 219.1a2.8 2.8 0 1 0 5.6 0a2.8 2.8 0 1 0 -5.6 0M57 208.4a2.8 2.8 0 1 0 5.6 0a2.8 2.8 0 1 0 -5.6 0M58.8 209.4a2.8 2.8 0 1 0 5.6 0a2.8 2.8 0 1 0 -5.6 0M60.7 208.9a2.8 2.8 0 1 0 5.6 0a2.8 2.8 0 1 0 -5.6 0M62.5 208a2.8 2.8 0 1 0 5.6 0a2.8 2.8 0 1 0 -5.6 0M64.4 208a2.8 2.8 0 1 0 5.6 0a2.8 2.8 0 1 0 -5.6 0M66.2 209.7a2.8 2.8 0 1 0 5.6 0a2.8 2.8 0 1 0 -5.6 0M68.1 209.5a2.8 2.8 0 1 0 5.6 0a2.8 2.8 0 1 0 -5.6 0M69.9 209.9a2.8 2.8 0 1 0 5.6 0a2.8 2.8 0 1 0 -5.6 0M71.8 209a2.8 2.8 0 1 0 5.6 0a2.8 2.8 0 1 0 -5.6 0M73.6 210a2.8 2.8 0 1 0 5.6 0a2.8 2.8 0 1 0 -5.6 0M75.5 209a2.8 2.8 0 1 0 5.6 0a2.8 2.8 0 1 0 -5.6 0M77.3 208.5a2.8 2.8 0 1 0 5.6 0a2.8 2.8 0 1 0 -5.6 0M79.1 209.4a2.8 2.8 0 1 0 5.6 0a2.8 2.8 0 1 0 -5.6 0M81 208.5a2.8 2.8 0 1 0 5.6 0a2.8 2.8 0 1 0 -5.6 0M82.8 208.7a2.8 2.8 0 1 0 5.6 0a2.8 2.8 0 1 0 -5.6 0M84.7 210a2.8 2.8 0 1 0 5.6 0a2.8 2.8 0 1 0 -5.6 0M86.5 208.7a2.8 2.8 0 1 0 5.6 0a2.8 2.8 0 1 0 -5.6 0M88.4 209.4a2.8 2.8 0 1 0 5.6 0a2.8 2.8 0 1 0 -5.6 0M90.2 209.1a2.8 2.8 0 1 0 5.6 0a2.8 2.8 0 1 0 -5.6 0M92.1 209.4a2.8 2.8 0 1 0 5.6 0a2.8 2.8 0 1 0 -5.6 0M93.9 208.4a2.8 2.8 0 1 0 5.6 0a2.8 2.8 0 1 0 -5.6 0M95.8 209a2.8 2.8 0 1 0 5.6 0a2.8 2.8 0 1 0 -5.6 0M97.6 209.7a2.8 2.8 0 1 0 5.6 0a2.8 2.8 0 1 0 -5.6 0M99.5 208.8a2.8 2.8 0 1 0 5.6 0a2.8 2.8 0 1 0 -5.6 0M101.3 208.2a2.8 2.8 0 1 0 5.6 0a2.8 2.8 0 1 0 -5.6 0M103.1 209.3a2.8 2.8 0 1 0 5.6 0a2.8 2.8 0 1 0 -5.6 0M105 209.5a2.8 2.8 0 1 0 5.6 0a2.8 2.8 0 1 0 -5.6 0M106.8 209.1a2.8 2.8 0 1 0 5.6 0a2.8 2.8 0 1 0 -5.6 0M108.7 207.9a2.8 2.8 0 1 0 5.6 0a2.8 2.8 0 1 0 -5.6 0M110.5 214.6a2.8 2.8 0 1 0 5.6 0a2.8 2.8 0 1 0 -5.6 0M112.4 208.5a2.8 2.8 0 1 0 5.6 0a2.8 2.8 0 1 0 -5.6 0M114.2 208a2.8 2.8 0 1 0 5.6 0a2.8 2.8 0 1 0 -5.6 0M116.1 208.1a2.8 2.8 0 1 0 5.6 0a2.8 2.8 0 1 0 -5.6 0M117.9 209.2a2.8 2.8 0 1 0 5.6 0a2.8 2.8 0 1 0 -5.6 0M119.8 209.8a2.8 2.8 0 1 0 5.6 0a2.8 2.8 0 1 0 -5.6 0M121.6 208.5a2.8 2.8 0 1 0 5.6 0a2.8 2.8 0 1 0 -5.6 0M123.4 208.7a2.8 2.8 0 1 0 5.6 0a2.8 2.8 0 1 0 -5.6 0M125.3 209.2a2.8 2.8 0 1 0 5.6 0a2.8 2.8 0 1 0 -5.6 0M127.1 209.5a2.8 2.8 0 1 0 5.6 0a2.8 2.8 0 1 0 -5.6 0M129 209.1a2.8 2.8 0 1 0 5.6 0a2.8 2.8 0 1 0 -5.6 0M130.8 208.9a2.8 2.8 0 1 0 5.6 0a2.8 2.8 0 1 0 -5.6 0M132.7 209.4a2.8 2.8 0 1 0 5.6 0a2.8 2.8 0 1 0 -5.6 0M134.5 209.4a2.8 2.8 0 1 0 5.6 0a2.8 2.8 0 1 0 -5.6 0M136.4 209a2.8 2.8 0 1 0 5.6 0a2.8 2.8 0 1 0 -5.6 0M138.2 208a2.8 2.8 0 1 0 5.6 0a2.8 2.8 0 1 0 -5.6 0M140.1 208.7a2.8 2.8 0 1 0 5.6 0a2.8 2.8 0 1 0 -5.6 0M141.9 209.4a2.8 2.8 0 1 0 5.6 0a2.8 2.8 0 1 0 -5.6 0M143.8 209.4a2.8 2.8 0 1 0 5.6 0a2.8 2.8 0 1 0 -5.6 0M145.6 209a2.8 2.8 0 1 0 5.6 0a2.8 2.8 0 1 0 -5.6 0M147.4 209.6a2.8 2.8 0 1 0 5.6 0a2.8 2.8 0 1 0 -5.6 0M149.3 209.6a2.8 2.8 0 1 0 5.6 0a2.8 2.8 0 1 0 -5.6 0M151.1 208.8a2.8 2.8 0 1 0 5.6 0a2.8 2.8 0 1 0 -5.6 0M153 209.8a2.8 2.8 0 1 0 5.6 0a2.8 2.8 0 1 0 -5.6 0M154.8 208.9a2.8 2.8 0 1 0 5.6 0a2.8 2.8 0 1 0 -5.6 0M156.7 209.2a2.8 2.8 0 1 0 5.6 0a2.8 2.8 0 1 0 -5.6 0M158.5 208.4a2.8 2.8 0 1 0 5.6 0a2.8 2.8 0 1 0 -5.6 0M160.4 208.3a2.8 2.8 0 1 0 5.6 0a2.8 2.8 0 1 0 -5.6 0M162.2 208.4a2.8 2.8 0 1 0 5.6 0a2.8 2.8 0 1 0 -5.6 0M164.1 208.4a2.8 2.8 0 1 0 5.6 0a2.8 2.8 0 1 0 -5.6 0M165.9 209.2a2.8 2.8 0 1 0 5.6 0a2.8 2.8 0 1 0 -5.6 0M167.8 208.5a2.8 2.8 0 1 0 5.6 0a2.8 2.8 0 1 0 -5.6 0M169.6 209.2a2.8 2.8 0 1 0 5.6 0a2.8 2.8 0 1 0 -5.6 0M171.4 208.7a2.8 2.8 0 1 0 5.6 0a2.8 2.8 0 1 0 -5.6 0M173.3 209.3a2.8 2.8 0 1 0 5.6 0a2.8 2.8 0 1 0 -5.6 0M175.1 209a2.8 2.8 0 1 0 5.6 0a2.8 2.8 0 1 0 -5.6 0M177 209.9a2.8 2.8 0 1 0 5.6 0a2.8 2.8 0 1 0 -5.6 0M178.8 209.5a2.8 2.8 0 1 0 5.6 0a2.8 2.8 0 1 0 -5.6 0M180.7 207.8a2.8 2.8 0 1 0 5.6 0a2.8 2.8 0 1 0 -5.6 0M182.5 209.5a2.8 2.8 0 1 0 5.6 0a2.8 2.8 0 1 0 -5.6 0M184.4 208.4a2.8 2.8 0 1 0 5.6 0a2.8 2.8 0 1 0 -5.6 0M186.2 208.5a2.8 2.8 0 1 0 5.6 0a2.8 2.8 0 1 0 -5.6 0M188.1 208.4a2.8 2.8 0 1 0 5.6 0a2.8 2.8 0 1 0 -5.6 0M189.9 208.9a2.8 2.8 0 1 0 5.6 0a2.8 2.8 0 1 0 -5.6 0M191.8 208.7a2.8 2.8 0 1 0 5.6 0a2.8 2.8 0 1 0 -5.6 0M193.6 209.9a2.8 2.8 0 1 0 5.6 0a2.8 2.8 0 1 0 -5.6 0M195.4 209.9a2.8 2.8 0 1 0 5.6 0a2.8 2.8 0 1 0 -5.6 0M197.3 209.6a2.8 2.8 0 1 0 5.6 0a2.8 2.8 0 1 0 -5.6 0M199.1 209.7a2.8 2.8 0 1 0 5.6 0a2.8 2.8 0 1 0 -5.6 0M201 209.8a2.8 2.8 0 1 0 5.6 0a2.8 2.8 0 1 0 -5.6 0M202.8 209.7a2.8 2.8 0 1 0 5.6 0a2.8 2.8 0 1 0 -5.6 0M204.7 208.8a2.8 2.8 0 1 0 5.6 0a2.8 2.8 0 1 0 -5.6 0M206.5 209.6a2.8 2.8 0 1 0 5.6 0a2.8 2.8 0 1 0 -5.6 0M208.4 207.8a2.8 2.8 0 1 0 5.6 0a2.8 2.8 0 1 0 -5.6 0M210.2 208.5a2.8 2.8 0 1 0 5.6 0a2.8 2.8 0 1 0 -5.6 0M212.1 208.8a2.8 2.8 0 1 0 5.6 0a2.8 2.8 0 1 0 -5.6 0M213.9 208.4a2.8 2.8 0 1 0 5.6 0a2.8 2.8 0 1 0 -5.6 0M215.7 209.4a2.8 2.8 0 1 0 5.6 0a2.8 2.8 0 1 0 -5.6 0M217.6 207.9a2.8 2.8 0 1 0 5.6 0a2.8 2.8 0 1 0 -5.6 0M219.4 208.1a2.8 2.8 0 1 0 5.6 0a2.8 2.8 0 1 0 -5.6 0M221.3 208.4a2.8 2.8 0 1 0 5.6 0a2.8 2.8 0 1 0 -5.6 0M223.1 208.9a2.8 2.8 0 1 0 5.6 0a2.8 2.8 0 1 0 -5.6 0M225 208.1a2.8 2.8 0 1 0 5.6 0a2.8 2.8 0 1 0 -5.6 0M226.8 208.3a2.8 2.8 0 1 0 5.6 0a2.8 2.8 0 1 0 -5.6 0M228.7 208.5a2.8 2.8 0 1 0 5.6 0a2.8 2.8 0 1 0 -5.6 0M230.5 207.9a2.8 2.8 0 1 0 5.6 0a2.8 2.8 0 1 0 -5.6 0M232.4 208.6a2.8 2.8 0 1 0 5.6 0a2.8 2.8 0 1 0 -5.6 0M234.2 209.2a2.8 2.8 0 1 0 5.6 0a2.8 2.8 0 1 0 -5.6 0M236.1 208.8a2.8 2.8 0 1 0 5.6 0a2.8 2.8 0 1 0 -5.6 0M237.9 209.6a2.8 2.8 0 1 0 5.6 0a2.8 2.8 0 1 0 -5.6 0M239.7 209.6a2.8 2.8 0 1 0 5.6 0a2.8 2.8 0 1 0 -5.6 0M241.6 208.4a2.8 2.8 0 1 0 5.6 0a2.8 2.8 0 1 0 -5.6 0M243.4 208.2a2.8 2.8 0 1 0 5.6 0a2.8 2.8 0 1 0 -5.6 0M245.3 207.8a2.8 2.8 0 1 0 5.6 0a2.8 2.8 0 1 0 -5.6 0M247.1 208.1a2.8 2.8 0 1 0 5.6 0a2.8 2.8 0 1 0 -5.6 0M249 208.8a2.8 2.8 0 1 0 5.6 0a2.8 2.8 0 1 0 -5.6 0M250.8 209.8a2.8 2.8 0 1 0 5.6 0a2.8 2.8 0 1 0 -5.6 0M252.7 208.9a2.8 2.8 0 1 0 5.6 0a2.8 2.8 0 1 0 -5.6 0M254.5 207.9a2.8 2.8 0 1 0 5.6 0a2.8 2.8 0 1 0 -5.6 0M256.4 208.2a2.8 2.8 0 1 0 5.6 0a2.8 2.8 0 1 0 -5.6 0M258.2 208.9a2.8 2.8 0 1 0 5.6 0a2.8 2.8 0 1 0 -5.6 0M260.1 209a2.8 2.8 0 1 0 5.6 0a2.8 2.8 0 1 0 -5.6 0M261.9 209.5a2.8 2.8 0 1 0 5.6 0a2.8 2.8 0 1 0 -5.6 0M263.7 209.6a2.8 2.8 0 1 0 5.6 0a2.8 2.8 0 1 0 -5.6 0M265.6 209.9a2.8 2.8 0 1 0 5.6 0a2.8 2.8 0 1 0 -5.6 0M267.4 208a2.8 2.8 0 1 0 5.6 0a2.8 2.8 0 1 0 -5.6 0M269.3 208.6a2.8 2.8 0 1 0 5.6 0a2.8 2.8 0 1 0 -5.6 0M271.1 209.7a2.8 2.8 0 1 0 5.6 0a2.8 2.8 0 1 0 -5.6 0M273 209.1a2.8 2.8 0 1 0 5.6 0a2.8 2.8 0 1 0 -5.6 0M274.8 209.9a2.8 2.8 0 1 0 5.6 0a2.8 2.8 0 1 0 -5.6 0M276.7 209.5a2.8 2.8 0 1 0 5.6 0a2.8 2.8 0 1 0 -5.6 0M278.5 208.3a2.8 2.8 0 1 0 5.6 0a2.8 2.8 0 1 0 -5.6 0M280.4 208.5a2.8 2.8 0 1 0 5.6 0a2.8 2.8 0 1 0 -5.6 0M282.2 208.9a2.8 2.8 0 1 0 5.6 0a2.8 2.8 0 1 0 -5.6 0M284.1 209.4a2.8 2.8 0 1 0 5.6 0a2.8 2.8 0 1 0 -5.6 0M285.9 208.5a2.8 2.8 0 1 0 5.6 0a2.8 2.8 0 1 0 -5.6 0M287.7 207.8a2.8 2.8 0 1 0 5.6 0a2.8 2.8 0 1 0 -5.6 0M289.6 209a2.8 2.8 0 1 0 5.6 0a2.8 2.8 0 1 0 -5.6 0M291.4 209.9a2.8 2.8 0 1 0 5.6 0a2.8 2.8 0 1 0 -5.6 0M293.3 209.9a2.8 2.8 0 1 0 5.6 0a2.8 2.8 0 1 0 -5.6 0M295.1 209.8a2.8 2.8 0 1 0 5.6 0a2.8 2.8 0 1 0 -5.6 0M297 207.8a2.8 2.8 0 1 0 5.6 0a2.8 2.8 0 1 0 -5.6 0M298.8 208.8a2.8 2.8 0 1 0 5.6 0a2.8 2.8 0 1 0 -5.6 0M300.7 208.1a2.8 2.8 0 1 0 5.6 0a2.8 2.8 0 1 0 -5.6 0M302.5 209.6a2.8 2.8 0 1 0 5.6 0a2.8 2.8 0 1 0 -5.6 0M304.4 209.4a2.8 2.8 0 1 0 5.6 0a2.8 2.8 0 1 0 -5.6 0M306.2 208.4a2.8 2.8 0 1 0 5.6 0a2.8 2.8 0 1 0 -5.6 0M308 208a2.8 2.8 0 1 0 5.6 0a2.8 2.8 0 1 0 -5.6 0M309.9 209.2a2.8 2.8 0 1 0 5.6 0a2.8 2.8 0 1 0 -5.6 0M311.7 209.9a2.8 2.8 0 1 0 5.6 0a2.8 2.8 0 1 0 -5.6 0M313.6 208a2.8 2.8 0 1 0 5.6 0a2.8 2.8 0 1 0 -5.6 0M315.4 209.4a2.8 2.8 0 1 0 5.6 0a2.8 2.8 0 1 0 -5.6 0M317.3 208.3a2.8 2.8 0 1 0 5.6 0a2.8 2.8 0 1 0 -5.6 0M319.1 209.7a2.8 2.8 0 1 0 5.6 0a2.8 2.8 0 1 0 -5.6 0M321 208.4a2.8 2.8 0 1 0 5.6 0a2.8 2.8 0 1 0 -5.6 0M322.8 208.1a2.8 2.8 0 1 0 5.6 0a2.8 2.8 0 1 0 -5.6 0M324.7 208.4a2.8 2.8 0 1 0 5.6 0a2.8 2.8 0 1 0 -5.6 0M326.5 209.2a2.8 2.8 0 1 0 5.6 0a2.8 2.8 0 1 0 -5.6 0M328.4 208.4a2.8 2.8 0 1 0 5.6 0a2.8 2.8 0 1 0 -5.6 0M330.2 209.7a2.8 2.8 0 1 0 5.6 0a2.8 2.8 0 1 0 -5.6 0M332 209.3a2.8 2.8 0 1 0 5.6 0a2.8 2.8 0 1 0 -5.6 0M333.9 209.1a2.8 2.8 0 1 0 5.6 0a2.8 2.8 0 1 0 -5.6 0M335.7 208a2.8 2.8 0 1 0 5.6 0a2.8 2.8 0 1 0 -5.6 0M337.6 209.7a2.8 2.8 0 1 0 5.6 0a2.8 2.8 0 1 0 -5.6 0M339.4 208a2.8 2.8 0 1 0 5.6 0a2.8 2.8 0 1 0 -5.6 0M341.3 208.2a2.8 2.8 0 1 0 5.6 0a2.8 2.8 0 1 0 -5.6 0M343.1 207.8a2.8 2.8 0 1 0 5.6 0a2.8 2.8 0 1 0 -5.6 0M345 209.2a2.8 2.8 0 1 0 5.6 0a2.8 2.8 0 1 0 -5.6 0M346.8 209.6a2.8 2.8 0 1 0 5.6 0a2.8 2.8 0 1 0 -5.6 0M348.7 209.5a2.8 2.8 0 1 0 5.6 0a2.8 2.8 0 1 0 -5.6 0M350.5 208.1a2.8 2.8 0 1 0 5.6 0a2.8 2.8 0 1 0 -5.6 0M352.4 207.8a2.8 2.8 0 1 0 5.6 0a2.8 2.8 0 1 0 -5.6 0M354.2 208.4a2.8 2.8 0 1 0 5.6 0a2.8 2.8 0 1 0 -5.6 0M356 208.9a2.8 2.8 0 1 0 5.6 0a2.8 2.8 0 1 0 -5.6 0M357.9 209.4a2.8 2.8 0 1 0 5.6 0a2.8 2.8 0 1 0 -5.6 0M359.7 208.1a2.8 2.8 0 1 0 5.6 0a2.8 2.8 0 1 0 -5.6 0M361.6 208a2.8 2.8 0 1 0 5.6 0a2.8 2.8 0 1 0 -5.6 0M363.4 209.8a2.8 2.8 0 1 0 5.6 0a2.8 2.8 0 1 0 -5.6 0M365.3 209.5a2.8 2.8 0 1 0 5.6 0a2.8 2.8 0 1 0 -5.6 0M367.1 208.1a2.8 2.8 0 1 0 5.6 0a2.8 2.8 0 1 0 -5.6 0M369 208.1a2.8 2.8 0 1 0 5.6 0a2.8 2.8 0 1 0 -5.6 0M370.8 209.3a2.8 2.8 0 1 0 5.6 0a2.8 2.8 0 1 0 -5.6 0M372.7 209.7a2.8 2.8 0 1 0 5.6 0a2.8 2.8 0 1 0 -5.6 0M374.5 209.7a2.8 2.8 0 1 0 5.6 0a2.8 2.8 0 1 0 -5.6 0M376.4 209.8a2.8 2.8 0 1 0 5.6 0a2.8 2.8 0 1 0 -5.6 0M378.2 211.2a2.8 2.8 0 1 0 5.6 0a2.8 2.8 0 1 0 -5.6 0M380 209.8a2.8 2.8 0 1 0 5.6 0a2.8 2.8 0 1 0 -5.6 0M381.9 210.9a2.8 2.8 0 1 0 5.6 0a2.8 2.8 0 1 0 -5.6 0M383.7 210.7a2.8 2.8 0 1 0 5.6 0a2.8 2.8 0 1 0 -5.6 0M385.6 212.3a2.8 2.8 0 1 0 5.6 0a2.8 2.8 0 1 0 -5.6 0M387.4 210.9a2.8 2.8 0 1 0 5.6 0a2.8 2.8 0 1 0 -5.6 0M389.3 211.7a2.8 2.8 0 1 0 5.6 0a2.8 2.8 0 1 0 -5.6 0M391.1 213a2.8 2.8 0 1 0 5.6 0a2.8 2.8 0 1 0 -5.6 0M393 212a2.8 2.8 0 1 0 5.6 0a2.8 2.8 0 1 0 -5.6 0M394.8 212.9a2.8 2.8 0 1 0 5.6 0a2.8 2.8 0 1 0 -5.6 0M396.7 212.9a2.8 2.8 0 1 0 5.6 0a2.8 2.8 0 1 0 -5.6 0M398.5 215.1a2.8 2.8 0 1 0 5.6 0a2.8 2.8 0 1 0 -5.6 0M400.3 215.4a2.8 2.8 0 1 0 5.6 0a2.8 2.8 0 1 0 -5.6 0M402.2 214.2a2.8 2.8 0 1 0 5.6 0a2.8 2.8 0 1 0 -5.6 0M404 215.5a2.8 2.8 0 1 0 5.6 0a2.8 2.8 0 1 0 -5.6 0M405.9 215.4a2.8 2.8 0 1 0 5.6 0a2.8 2.8 0 1 0 -5.6 0M407.7 216.6a2.8 2.8 0 1 0 5.6 0a2.8 2.8 0 1 0 -5.6 0M409.6 215a2.8 2.8 0 1 0 5.6 0a2.8 2.8 0 1 0 -5.6 0M411.4 216.5a2.8 2.8 0 1 0 5.6 0a2.8 2.8 0 1 0 -5.6 0M413.3 216.1a2.8 2.8 0 1 0 5.6 0a2.8 2.8 0 1 0 -5.6 0M415.1 218.1a2.8 2.8 0 1 0 5.6 0a2.8 2.8 0 1 0 -5.6 0M417 217.5a2.8 2.8 0 1 0 5.6 0a2.8 2.8 0 1 0 -5.6 0M418.8 218.8a2.8 2.8 0 1 0 5.6 0a2.8 2.8 0 1 0 -5.6 0M420.7 217.3a2.8 2.8 0 1 0 5.6 0a2.8 2.8 0 1 0 -5.6 0M422.5 218.7a2.8 2.8 0 1 0 5.6 0a2.8 2.8 0 1 0 -5.6 0" stroke="#3c9a32" stroke-width="0.75" fill="none"/><path d="M59.8 206.5 61.6 206.5 63.5 206 65.3 206.5 67.2 206.4 69 206.1 70.9 206.1 72.7 206 74.6 205.9 76.4 206.2 78.3 205.9 80.1 206.4 81.9 206.3 83.8 205.8 85.6 206.4 87.5 206.4 89.3 206.3 91.2 206.1 93 206.6 94.9 206.5 96.7 206.1 98.6 206.4 100.4 205.9 102.2 205.8 104.1 206 105.9 205.9 107.8 206.2 109.6 206.5 111.5 206.1 113.3 206.2 115.2 206 117 206.4 118.9 206.3 120.7 205.7 122.6 206.3 124.4 206.2 126.2 205.6 128.1 206.3 129.9 206.4 131.8 205.9 133.6 206 135.5 206 137.3 206.5 139.2 206.2 141 206.6 142.9 206.3 144.7 205.9 146.6 206.5 148.4 206.3 150.2 205.6 152.1 205.6 153.9 206.1 155.8 205.8 157.6 205.9 159.5 206.1 161.3 205.7 163.2 206.4 165 205.7 166.9 206.5 168.7 205.7 170.6 205.9 172.4 206.1 174.2 205.9 176.1 206.1 177.9 205.8 179.8 206.5 181.6 206.1 183.5 205.7 185.3 205.6 187.2 206.4 189 206.3 190.9 205.7 192.7 206.2 194.6 206.5 196.4 205.8 198.2 206.2 200.1 205.8 201.9 206.1 203.8 206.1 205.6 206.2 207.5 206.3 209.3 205.7 211.2 205.9 213 205.8 214.9 205.7 216.7 206.3 218.5 205.6 220.4 205.7 222.2 206.1 224.1 206 225.9 206.5 227.8 205.8 229.6 206.4 231.5 206 233.3 206.4 235.2 206.5 237 206 238.9 206.1 240.7 205.9 242.5 205.8 244.4 205.6 246.2 206.5 248.1 205.9 249.9 206 251.8 205.9 253.6 206 255.5 206 257.3 205.7 259.2 206.1 261 206 262.9 205.9 264.7 206.5 266.5 206.1 268.4 206.5 270.2 206.4 272.1 206.6 273.9 206.4 275.8 206.4 277.6 206.1 279.5 206 281.3 205.7 283.2 206.1 285 205.7 286.9 206.2 288.7 205.8 290.5 206 292.4 205.9 294.2 206.3 296.1 205.6" stroke="#3c9a32" stroke-width="2.2" fill="none" stroke-linecap="round" stroke-linejoin="round"/><circle cx="57.2" cy="221.6" r="1.8" fill="#3c9a32"/><path d="M56.1 233.7 57 234 58 234.3 58.9 234.6 59.8 234.9 60.8 235.2 61.7 235.5 62.7 235.7 63.6 236 64.5 236.3 65.5 236.6 66.4 236.8 67.3 237.1 68.3 237.3 69.2 237.5 70.2 237.8 71.1 238 72 238.2 73 238.4 73.9 238.6 74.8 238.7 75.8 238.9 76.7 239 77.6 239.2 78.6 239.3 79.5 239.4 80.5 239.5 81.4 239.7 82.3 239.8 83.3 239.9 84.2 240 85.1 240.1 86.1 240.2 87 240.3 88 240.4 88.9 240.5 89.8 240.5 90.8 240.6 91.7 240.7 92.6 240.8 93.6 240.8 94.5 240.9 95.5 241 96.4 241 97.3 241.1 98.3 241.1 99.2 241.2 100.1 241.2 101.1 241.3 102 241.3 102.9 241.3 103.9 241.4 104.8 241.4 105.8 241.4 106.7 241.5 107.6 241.5 108.6 241.5 109.5 241.6 110.4 241.6 111.4 241.6 112.3 241.6 113.3 241.7 114.2 241.7 115.1 241.7 116.1 241.7 117 241.8 117.9 241.8 118.9 241.8 119.8 241.8 120.7 241.8 121.7 241.9 122.6 241.9 123.6 241.9 124.5 241.9 125.4 242 126.4 242 127.3 242 128.2 242 129.2 242.1 130.1 242.1 131.1 242.1 132 242.1 132.9 242.2 133.9 242.2 134.8 242.2 135.7 242.2 136.7 242.2 137.6 242.3 138.5 242.3 139.5 242.3 140.4 242.3 141.4 242.3 142.3 242.4 143.2 242.4 144.2 242.4 145.1 242.4 146 242.5 147 242.5 147.9 242.5 148.9 242.5 149.8 242.6 150.7 242.6 151.7 242.6 152.6 242.7 153.5 242.7 154.5 242.8 155.4 242.8 156.3 242.8 157.3 242.9 158.2 243 159.2 243 160.1 243.1 161 243.2 162 243.3 162.9 243.4 163.8 243.6 164.8 243.7 165.7 243.9 166.7 244.1 167.6 244.2 168.5 244.4 169.5 244.6 170.4 244.8 171.3 245.1 172.3 245.4 173.2 245.7 174.2 246.1 175.1 246.5 176 246.9 177 247.4 177.9 247.8 178.8 248.4 179.8 248.9 180.7 249.4 181.6 249.9 182.6 250.5 183.5 251.1 184.5 251.8 185.4 252.5 186.3 253.2 187.3 254 188.2 254.8 189.1 255.7 190.1 256.6 191 257.6 192 258.7 192.9 259.8 193.8 261 194.8 262.1 195.7 263.3 196.6 264.5 197.6 265.7 198.5 266.8 199.4 267.8 200.4 268.8 201.3 269.7 202.3 270.6 203.2 271.6 204.1 272.5 205.1 273.4 206 274.2 206.9 275.1 207.9 275.9 208.8 276.7 209.8 277.4 210.7 278.1 211.6 278.8 212.6 279.5 213.5 280.1 214.4 280.7 215.4 281.3 216.3 281.8 217.2 282.4 218.2 282.9 219.1 283.4 220.1 283.9 221 284.4 221.9 284.9 222.9 285.4 223.8 285.9 224.7 286.3 225.7 286.8 226.6 287.2 227.6 287.7 228.5 288.1 229.4 288.6 230.4 289 231.3 289.4 232.2 289.8 233.2 290.3 234.1 290.7 235.1 291.1 236 291.5 236.9 291.8 237.9 292.2 238.8 292.6 239.7 293 240.7 293.3 241.6 293.7 242.5 294" stroke="#5aacf5" stroke-width="6.2" fill="none" stroke-linecap="round" stroke-linejoin="round"/><path d="M56.1 237 57.3 238.6 58.5 240.1 59.7 241.6 60.9 242.8 62.1 243.3 63.3 243.6 64.5 243.7 65.7 243.7 67 243.6 68.2 243.4 69.4 243.1 70.6 242.9 71.8 242.8 73 242.8 74.2 242.7 75.4 242.6 76.6 242.5 77.8 242.5 79 242.4 80.2 242.4 81.4 242.4 82.6 242.4 83.8 242.4 85 242.4 86.2 242.4 87.5 242.4 88.7 242.5 89.9 242.5 91.1 242.5 92.3 242.6 93.5 242.6 94.7 242.7 95.9 242.7 97.1 242.8 98.3 242.8 99.5 242.9 100.7 242.9 101.9 243 103.1 243.1 104.3 243.1 105.5 243.2 106.7 243.3 108 243.4 109.2 243.4 110.4 243.5 111.6 243.6 112.8 243.7 114 243.9 115.2 244 116.4 244.1 117.6 244.2 118.8 244.3 120 244.5 121.2 244.6 122.4 244.7 123.6 244.9 124.8 245 126 245.2 127.2 245.3 128.5 245.4 129.7 245.6 130.9 245.8 132.1 245.9 133.3 246.1 134.5 246.2 135.7 246.4 136.9 246.5 138.1 246.7 139.3 246.9 140.5 247 141.7 247.2 142.9 247.4 144.1 247.5 145.3 247.7 146.5 247.9 147.8 248 149 248.2 150.2 248.4 151.4 248.5 152.6 248.7 153.8 248.9 155 249 156.2 249.2 157.4 249.3 158.6 249.5 159.8 249.6 161 249.8 162.2 249.9 163.4 250.1 164.6 250.2 165.8 250.4 167 250.5 168.3 250.7 169.5 250.8 170.7 250.9 171.9 251.1 173.1 251.2 174.3 251.4 175.5 251.5 176.7 251.7 177.9 251.8 179.1 251.9 180.3 252.1 181.5 252.2 182.7 252.4 183.9 252.5 185.1 252.7 186.3 252.8 187.5 253 188.8 253.1 190 253.3 191.2 253.4 192.4 253.6 193.6 253.7 194.8 253.9 196 254 197.2 254.2 198.4 254.3 199.6 254.5 200.8 254.6 202 254.8 203.2 254.9 204.4 255.1 205.6 255.2 206.8 255.4 208 255.5 209.3 255.7 210.5 255.8 211.7 256 212.9 256.1 214.1 256.3 215.3 256.4 216.5 256.6 217.7 256.7 218.9 256.8 220.1 257 221.3 257.1 222.5 257.3 223.7 257.4 224.9 257.6 226.1 257.7 227.3 257.8 228.5 258 229.8 258.1 231 258.3 232.2 258.4 233.4 258.5 234.6 258.7 235.8 258.8 237 258.9 238.2 259.1 239.4 259.2 240.6 259.3 241.8 259.5 243 259.6 244.2 259.7 245.4 259.8 246.6 260 247.8 260.1 249 260.2 250.3 260.3 251.5 260.4 252.7 260.6 253.9 260.7 255.1 260.8 256.3 260.9 257.5 261 258.7 261.1 259.9 261.2 261.1 261.3 262.3 261.4 263.5 261.5 264.7 261.7 265.9 261.8 267.1 261.9 268.3 262 269.5 262.1 270.8 262.2 272 262.2 273.2 262.3 274.4 262.4 275.6 262.5 276.8 262.6 278 262.7 279.2 262.8 280.4 262.9 281.6 263 282.8 263.1 284 263.2 285.2 263.2 286.4 263.3 287.6 263.4 288.8 263.5 290.1 263.6 291.3 263.7 292.5 263.7 293.7 263.8 294.9 263.9 296.1 264" stroke="#e9a62e" stroke-width="6.2" fill="none" stroke-linecap="round" stroke-linejoin="round"/><path d="M56.1 232.8 57.3 232.8 58.6 232.9 59.8 233.1 61 233.4 62.3 234 63.5 234.5 64.7 235 66 235.5 67.2 235.8 68.4 235.9 69.7 235.7 70.9 235.4 72.2 235.1 73.4 235 74.6 234.9 75.9 234.8 77.1 234.8 78.3 234.9 79.6 235 80.8 235.2 82 235.4 83.3 235.6 84.5 235.7 85.7 235.7 87 235.8 88.2 235.9 89.4 235.9 90.7 236 91.9 236.1 93.1 236.1 94.4 236.2 95.6 236.2 96.8 236.3 98.1 236.3 99.3 236.4 100.6 236.4 101.8 236.4 103 236.5 104.3 236.5 105.5 236.6 106.7 236.6 108 236.7 109.2 236.7 110.4 236.7 111.7 236.8 112.9 236.8 114.1 236.9 115.4 236.9 116.6 236.9 117.8 237 119.1 237 120.3 237 121.5 237.1 122.8 237.1 124 237.1 125.2 237.2 126.5 237.2 127.7 237.2 129 237.3 130.2 237.3 131.4 237.4 132.7 237.4 133.9 237.4 135.1 237.5 136.4 237.5 137.6 237.5 138.8 237.6 140.1 237.6 141.3 237.6 142.5 237.7 143.8 237.7 145 237.8 146.2 237.8 147.5 237.8 148.7 237.9 149.9 237.9 151.2 238 152.4 238 153.6 238 154.9 238.1 156.1 238.1 157.4 238.2 158.6 238.2 159.8 238.3 161.1 238.3 162.3 238.3 163.5 238.4 164.8 238.4 166 238.5 167.2 238.5 168.5 238.6 169.7 238.6 170.9 238.7 172.2 238.7 173.4 238.8 174.6 238.8 175.9 238.8 177.1 238.9 178.3 238.9 179.6 239 180.8 239 182 239.1 183.3 239.1 184.5 239.2 185.8 239.2 187 239.3 188.2 239.3 189.5 239.4 190.7 239.4 191.9 239.5 193.2 239.5 194.4 239.6 195.6 239.6 196.9 239.7 198.1 239.7 199.3 239.8 200.6 239.8 201.8 239.9 203 239.9 204.3 240 205.5 240 206.7 240.1 208 240.1 209.2 240.2 210.4 240.2 211.7 240.3 212.9 240.3 214.2 240.4 215.4 240.4 216.6 240.5 217.9 240.5 219.1 240.6 220.3 240.6 221.6 240.7 222.8 240.7 224 240.8 225.3 240.8 226.5 240.9 227.7 240.9 229 241 230.2 241 231.4 241.1 232.7 241.2 233.9 241.2 235.1 241.3 236.4 241.3 237.6 241.4 238.8 241.4 240.1 241.5 241.3 241.5 242.6 241.6 243.8 241.7 245 241.7 246.3 241.8 247.5 241.8 248.7 241.9 250 241.9 251.2 242 252.4 242.1 253.7 242.1 254.9 242.2 256.1 242.2 257.4 242.3 258.6 242.3 259.8 242.4 261.1 242.5 262.3 242.5 263.5 242.6 264.8 242.6 266 242.7 267.2 242.8 268.5 242.8 269.7 242.9 271 242.9 272.2 243 273.4 243.1 274.7 243.1 275.9 243.2 277.1 243.3 278.4 243.3 279.6 243.4 280.8 243.4 282.1 243.5 283.3 243.6 284.5 243.6 285.8 243.7 287 243.8 288.2 243.8 289.5 243.9 290.7 244 291.9 244 293.2 244.1 294.4 244.2 295.6 244.2 296.9 244.3 298.1 244.4 299.4 244.4 300.6 244.5 301.8 244.6 303.1 244.6 304.3 244.7 305.5 244.8 306.8 244.8 308 244.9 309.2 245 310.5 245 311.7 245.1 312.9 245.2 314.2 245.2 315.4 245.3 316.6 245.4 317.9 245.4 319.1 245.5 320.3 245.6 321.6 245.6 322.8 245.7 324 245.8 325.3 245.8 326.5 245.9 327.8 246 329 246.1 330.2 246.1 331.5 246.2 332.7 246.3 333.9 246.3 335.2 246.4 336.4 246.5 337.6 246.6 338.9 246.6 340.1 246.7 341.3 246.8 342.6 246.8 343.8 246.9 345 247 346.3 247.1 347.5 247.1 348.7 247.2 350 247.3 351.2 247.4 352.4 247.4 353.7 247.5 354.9 247.6 356.2 247.7 357.4 247.7 358.6 247.8 359.9 247.9 361.1 248 362.3 248 363.6 248.1 364.8 248.2 366 248.3 367.3 248.3 368.5 248.4 369.7 248.5 371 248.6 372.2 248.6 373.4 248.7 374.7 248.8 375.9 248.9 377.1 249 378.4 249 379.6 249.1 380.8 249.2 382.1 249.3 383.3 249.4 384.6 249.4 385.8 249.5 387 249.6 388.3 249.7 389.5 249.8 390.7 249.8 392 249.9 393.2 250 394.4 250.1 395.7 250.2 396.9 250.2 398.1 250.3 399.4 250.4 400.6 250.5 401.8 250.6 403.1 250.7 404.3 250.7 405.5 250.8 406.8 250.9 408 251 409.2 251.1 410.5 251.2 411.7 251.2 413 251.3 414.2 251.4 415.4 251.5 416.7 251.6 417.9 251.7 419.1 251.8 420.4 251.8 421.6 251.9 422.8 252 424.1 252.1 425.3 252.2" stroke="#e23a22" stroke-width="7" fill="none" stroke-linecap="round" stroke-linejoin="round"/><circle cx="85.6" cy="282.7" r="3.7" fill="#5aacf5"/><text x="102.8" y="287.8" font-size="12.6">Liquid</text><circle cx="85.6" cy="301.1" r="3.7" fill="#e9a62e"/><text x="102.8" y="306.2" font-size="12.6">Li-TA-COF</text><circle cx="85.6" cy="319.5" r="3.7" fill="#e23a22"/><text x="102.8" y="324.6" font-size="12.6">Li-PF-COF</text><text x="258" y="224.6" font-size="10.4" fill="#e23a22">167 mAh·g<tspan dy="-4" font-size="7.1">-1</tspan><tspan dy="4"></tspan></text><text x="260.5" y="237.5" font-size="10.4" fill="#e23a22">93% 100th</text><text x="283.6" y="284.7" font-size="10.4" fill="#e9a230">126 mAh·g<tspan dy="-4" font-size="7.1">-1</tspan><tspan dy="4"></tspan></text><text x="286" y="297.6" font-size="10.4" fill="#e9a230">72%  130th</text><text x="363" y="275.5" font-size="10.4" fill="#e23a22">148 mAh·g<tspan dy="-4" font-size="7.1">-1</tspan><tspan dy="4"></tspan></text><text x="364.8" y="288.9" font-size="10.4" fill="#e23a22">82%   200th</text><text x="182.3" y="316.6" font-size="10.4" fill="#e23a22">72 mAh·g<tspan dy="-4" font-size="7.1">-1</tspan><tspan dy="4"></tspan></text><text x="182.3" y="330.4" font-size="10.4" fill="#e23a22">40%  100th</text><text x="266.8" y="320" font-size="14.5">1 C</text><line x1="240.6" y1="238.3" x2="254.3" y2="232.1" stroke="#111" stroke-width="0.8"/><path d="M254.3 232.1L251 235.7L249.4 232.2Z" stroke="none" stroke-width="1" fill="#111"/><line x1="297.3" y1="268.5" x2="313.4" y2="272.3" stroke="#111" stroke-width="0.8"/><path d="M313.4 272.3L308.6 273.1L309.5 269.4Z" stroke="none" stroke-width="1" fill="#111"/><line x1="425" y1="254.4" x2="411.4" y2="264.8" stroke="#111" stroke-width="0.8"/><path d="M411.4 264.8L413.8 260.6L416.1 263.6Z" stroke="none" stroke-width="1" fill="#111"/><line x1="240.2" y1="300.4" x2="228.8" y2="308" stroke="#111" stroke-width="0.8"/><path d="M228.8 308L231.5 303.9L233.6 307.1Z" stroke="none" stroke-width="1" fill="#111"/><path d="M100.9 250.3V264.3H62" stroke="#111" stroke-width="0.8" fill="none"/><line x1="70" y1="264.3" x2="61.5" y2="264.3" stroke="#111" stroke-width="0.8"/><path d="M61.5 264.3L66 262.4L66 266.2Z" stroke="none" stroke-width="1" fill="#111"/><path d="M386.2 222.4V237H416" stroke="#111" stroke-width="0.8" fill="none"/><line x1="410" y1="237" x2="423.5" y2="237" stroke="#111" stroke-width="0.8"/><path d="M423.5 237L419 238.9L419 235.1Z" stroke="none" stroke-width="1" fill="#111"/><rect x="23.1" y="370.9" width="654.4" height="178.1" fill="none" stroke="#4fb3f0" stroke-width="1.4" stroke-dasharray="3.6 2.1"/><g clip-path="url(#cf)"><rect x="26.5" y="375" width="208.5" height="168.60000000000002" filter="url(#gf1)"/><path d="M26.5 470 Q45 490 66 505 L110 543.6 L26.5 543.6Z" fill="#6c6c6c" filter="url(#bl3)"/><path d="M62 512 L112 524 L110 543.6 L62 543.6Z" fill="#505050" filter="url(#bl3)"/><path d="M190 505 L235 490 L235 543.6 L190 543.6Z" fill="#707070" filter="url(#bl3)"/><path d="M190 505 L235 485 L235 543.6 L200 543.6Z" fill="#6a6a6a" filter="url(#bl3)"/><path d="M60 380 Q75 378 85 392 Q80 410 70 420 Q58 410 55 395Z" fill="#505050" filter="url(#bl3)" opacity="0.7"/><path d="M120 418 Q132 400 150 392 Q175 384 200 398 Q222 410 228 440 L160 440Z" fill="#989898" filter="url(#bl1)"/><path d="M146 390 Q175 386 198 399 Q216 410 229 432" stroke="#d0d0d0" stroke-width="4" fill="none" filter="url(#bl1)"/><path d="M150 405 Q170 398 190 410 Q205 418 215 428" stroke="#b0b0b0" stroke-width="3" fill="none" filter="url(#bl3)"/><path d="M29 464 L55 440 L80 420 L90 424 L120 424 L146 423 L180 424 L212 426 L228 440 L234.5 478 L222 486 L158 516.6 L115 510 L65.8 498 L44 484 Z" fill="#7e7e7e"/><path d="M29 464 L55 440 L80 420 L90 424 L120 424 L146 423 L180 424 L212 426 L228 440 L234.5 478 L222 486 L158 516.6 L115 510 L65.8 498 L44 484 Z" fill="#000" filter="url(#stf)" opacity="0.16"/><path d="M29 464.5 L44 484 L65.8 498 L110 509 L157.8 516.6 L222 486 L234.5 478" stroke="#d8d8d8" stroke-width="5" fill="none" stroke-linejoin="round" filter="url(#bl1)"/><path d="M29 462 L55 438 L82 417" stroke="#c4c4c4" stroke-width="6" fill="none" filter="url(#bl1)"/><path d="M26.5 420 L50 418 L34 450 L26.5 456Z" fill="#7a7a7a" filter="url(#bl3)"/><path d="M84 426 Q80 404 88 392 Q96 380 110 380 Q120 378 126 386 Q136 378 144 386 Q152 402 146 414 Q132 426 112 426 Z" fill="#c2c2c2" filter="url(#bl1)"/><path d="M86 425 Q98 430 114 427 Q134 425 146 414" stroke="#e4e4e4" stroke-width="3" fill="none" filter="url(#bl1)"/><path d="M119 388 Q121 400 118 414" stroke="#a8a8a8" stroke-width="2" fill="none" filter="url(#bl3)"/><path d="M134 390 Q146 396 146 412 Q140 418 132 418Z" fill="#989898" filter="url(#bl3)"/><path d="M92 425 Q98 436 110 438 Q100 446 92 440Z" fill="#aaaaaa" filter="url(#bl1)"/><path d="M70 488 Q85 478 95 482 Q105 472 118 466 M88 474 Q100 466 112 468 M98 490 Q108 484 116 478" stroke="#3a3a3a" stroke-width="1.4" fill="none" filter="url(#bl1)"/></g><ellipse cx="102.6" cy="482.8" rx="37.6" ry="14" transform="rotate(-22 102.6 482.8)" fill="none" stroke="#e6ef3c" stroke-width="1.3" stroke-dasharray="1.3 1.3"/><path d="M140.5 469.6 L164 456" stroke="#e6ef3c" stroke-width="1.5" stroke-dasharray="1.5 1.5"/><path d="M168 453.5 L160.5 453.7 L164.4 459.4Z" fill="#e6ef3c"/><text x="111.8" y="449.5" font-size="19" fill="#e6ef3c">microcracks</text><text x="38.3" y="524.2" font-size="12.7" fill="#fff">2 μm</text><rect x="32.7" y="530.3" width="74.5" height="1.5" fill="#fff"/><text x="31" y="391.2" font-size="20" font-weight="bold" fill="#000">f</text><g clip-path="url(#cg)"><rect x="245.4" y="373.8" width="209.49999999999997" height="168.7" fill="#989898"/><path d="M245 373 L455 373 L455 455 Q446 432 436 420 Q420 402 400 392 Q384 388 370 392 Q350 396 330 400 Q315 404 300 400 Q296 418 288 426 Q278 420 272 430 Q262 440 262 452 Q254 466 245 472 Z" filter="url(#gg1)"/><path d="M245 522 Q270 510 300 518 Q330 522 360 526 Q400 524 430 520 Q445 522 455 515 L455 543 L245 543Z" filter="url(#gg1)"/><path d="M305 400 Q318 408 332 404 Q350 398 372 394" stroke="#999" stroke-width="6" fill="none"/><rect x="245.4" y="373.8" width="209.49999999999997" height="168.7" fill="#000" filter="url(#stg)" opacity="0.13"/><path d="M258 398 Q266 386 276 387 Q284 384 292 382 M292 382 Q300 392 310 390 Q320 386 330 392 M330 392 Q340 384 352 388 M300 400 Q310 396 322 398 M262 410 Q256 420 252 432 M380 392 Q392 388 404 394 M440 410 Q448 416 455 414 M250 500 Q262 510 272 516 M300 520 Q310 512 320 520 M340 522 Q350 530 360 526 M395 520 Q410 530 425 522" stroke="#5a5a5a" stroke-width="0.8" fill="none"/><path d="M328 391 Q334 390 337 395 Q336 400 333 401 Q331 396 328 391Z M291 374 L297 374 Q296 380 294 383 Q292 379 291 374Z M439 381 Q444 378 448 382 Q446 388 442 389Z M263 385 L276 386 L270 389Z" fill="#222"/><path d="M286.4 400.6 Q292 404 295.6 412 Q296 418 294 423.6 Q290 418 287 410Z" fill="#151515"/><path d="M411 390 Q420 386 430 394 Q433 400 428 404 Q420 398 411 392Z" fill="#1a1a1a"/><path d="M417 411 Q426 414 434 420 Q440 426 441 431 Q430 428 422 420Z" fill="#1a1a1a"/><path d="M264 514 Q274 520 282 528 Q290 535 296 542.5 L291 542.5 Q283 535 276 528Z" fill="#111"/><path d="M318 536 Q330 530 345 534 Q352 540 355 542.5 L318 542.5Z" fill="#333"/><path d="M245.4 420 Q252 430 256 445 Q252 456 245.4 462Z" fill="#2a2a2a" opacity="0.5"/><path d="M375.3 374 V543" stroke="#6a6a6a" stroke-width="0.8"/><path d="M320 474 L330 470 M290 482 L296 481 M395 480 L400 486" stroke="#333" stroke-width="1" fill="none"/></g><ellipse cx="308.8" cy="487.6" rx="38" ry="12" transform="rotate(-20 308.8 487.6)" fill="none" stroke="#e6ef3c" stroke-width="1.3" stroke-dasharray="1.3 1.3"/><ellipse cx="390.4" cy="490" rx="37" ry="10.5" transform="rotate(62 390.4 490)" fill="none" stroke="#e6ef3c" stroke-width="1.3" stroke-dasharray="1.3 1.3"/><path d="M328.5 470.5 L339 441" stroke="#e6ef3c" stroke-width="1.5" stroke-dasharray="1.5 1.5"/><path d="M340.5 436 L335.5 442.5 L342.3 443.6Z" fill="#e6ef3c"/><path d="M367 462 L362.5 441" stroke="#e6ef3c" stroke-width="1.5" stroke-dasharray="1.5 1.5"/><path d="M361.5 436 L358.6 443.5 L365.5 442.4Z" fill="#e6ef3c"/><text x="305.5" y="430.5" font-size="19" fill="#e6ef3c">microcracks</text><text x="258.5" y="522.8" font-size="12.7" fill="#fff">2 μm</text><rect x="252.8" y="528.8" width="75.2" height="1.5" fill="#fff"/><text x="246.2" y="388.4" font-size="20" font-weight="bold" fill="#000">g</text><g clip-path="url(#ch)"><rect x="465" y="374" width="210.10000000000002" height="167.5" filter="url(#gh2)"/><path d="M465 374 L520 374 L505 392 L480 398 L465 420Z" filter="url(#gh1)"/><path d="M540 374 L675 374 L675 390 L540 390Z" filter="url(#gh1)" opacity="0.9"/><path d="M636 374 L675 374 L675 430 Q662 405 648 388Z" fill="#8c8c8c" filter="url(#bl1)"/><path d="M466 402 L483.4 389 L511 390 L544.7 387 L581.5 383 L636.7 384 L655 394 L667.3 420 L670.4 459.8 L664.3 475.2 L636.7 502.8 L609 521 L557 525.7 L483.4 527.3 L465 530 L465 400Z" fill="url(#hg)"/><rect x="465" y="395" width="55" height="135" fill="url(#hg2)"/><g clip-path="url(#chp)"><rect x="420" y="330" width="300" height="260" fill="#000" filter="url(#sth)" opacity="0.12" transform="rotate(-18 570 458)"/></g><path d="M466 400 Q470 420 468 440 Q472 460 468 480" stroke="#222" stroke-width="2.5" fill="none" filter="url(#bl1)"/><g clip-path="url(#chp)"><rect x="465" y="380" width="210" height="40" fill="url(#hg3)"/></g><path d="M465 400 L480 388 L511 386 L544.7 383 L581.5 378 L636.7 379 L655 391" stroke="#c8c8c8" stroke-width="7" fill="none" stroke-linejoin="round" filter="url(#bl1)"/><ellipse cx="488" cy="396" rx="18" ry="10" fill="#c4c4c4" filter="url(#bl3)"/><path d="M643 374 L675 374 L675 420 L660 420 Q652 400 643 380Z" fill="#9a9a9a" filter="url(#bl1)"/><path d="M470 392 Q485 380 505 384" stroke="#e0e0e0" stroke-width="5" fill="none" filter="url(#bl1)"/><path d="M655 392.4 L667.3 420 L670.4 459.8 L664.3 475.2 L636.7 502.8 L609 521 L557 525.7" stroke="#b0b0b0" stroke-width="4.5" fill="none" stroke-linejoin="round" filter="url(#bl1)"/><path d="M465 528 L505 529 L505 541.5 L465 541.5Z" fill="#5e5e5e"/><path d="M470 530 L476 541 M480 529 L486 541 M490 529 L496 541" stroke="#7a7a7a" stroke-width="1.2"/></g><text x="510.4" y="450.6" font-size="19.5" fill="#e6ef3c">no microcracks</text><text x="477.9" y="521.1" font-size="12.7" fill="#fff">2 μm</text><rect x="471.7" y="526.6" width="73.6" height="1.5" fill="#fff"/><text x="467" y="390.6" font-size="20" font-weight="bold" fill="#000">h</text><text x="1.2" y="570.5" font-size="20" font-weight="bold" fill="#000">i</text><rect x="46.3" y="560.5" width="164" height="138" fill="none" stroke="#777" stroke-width="0.8"/><line x1="46.3" y1="698.5" x2="46.3" y2="696" stroke="#555" stroke-width="0.8"/><text x="46.3" y="708.9" font-size="8.9" text-anchor="middle">0</text><line x1="69.7" y1="698.5" x2="69.7" y2="696" stroke="#555" stroke-width="0.8"/><text x="69.7" y="708.9" font-size="8.9" text-anchor="middle">100</text><line x1="93.2" y1="698.5" x2="93.2" y2="696" stroke="#555" stroke-width="0.8"/><text x="93.2" y="708.9" font-size="8.9" text-anchor="middle">200</text><line x1="116.6" y1="698.5" x2="116.6" y2="696" stroke="#555" stroke-width="0.8"/><text x="116.6" y="708.9" font-size="8.9" text-anchor="middle">300</text><line x1="140" y1="698.5" x2="140" y2="696" stroke="#555" stroke-width="0.8"/><text x="140" y="708.9" font-size="8.9" text-anchor="middle">400</text><line x1="163.4" y1="698.5" x2="163.4" y2="696" stroke="#555" stroke-width="0.8"/><text x="163.4" y="708.9" font-size="8.9" text-anchor="middle">500</text><line x1="186.9" y1="698.5" x2="186.9" y2="696" stroke="#555" stroke-width="0.8"/><text x="186.9" y="708.9" font-size="8.9" text-anchor="middle">600</text><line x1="210.3" y1="698.5" x2="210.3" y2="696" stroke="#555" stroke-width="0.8"/><text x="210.3" y="708.9" font-size="8.9" text-anchor="middle">700</text><line x1="58" y1="698.5" x2="58" y2="697" stroke="#555" stroke-width="0.8"/><line x1="81.4" y1="698.5" x2="81.4" y2="697" stroke="#555" stroke-width="0.8"/><line x1="104.9" y1="698.5" x2="104.9" y2="697" stroke="#555" stroke-width="0.8"/><line x1="128.3" y1="698.5" x2="128.3" y2="697" stroke="#555" stroke-width="0.8"/><line x1="151.7" y1="698.5" x2="151.7" y2="697" stroke="#555" stroke-width="0.8"/><line x1="175.2" y1="698.5" x2="175.2" y2="697" stroke="#555" stroke-width="0.8"/><line x1="198.6" y1="698.5" x2="198.6" y2="697" stroke="#555" stroke-width="0.8"/><line x1="46.3" y1="698.5" x2="48.8" y2="698.5" stroke="#555" stroke-width="0.8"/><text x="44.6" y="701.7" font-size="8.9" text-anchor="end">0</text><line x1="46.3" y1="670.9" x2="48.8" y2="670.9" stroke="#555" stroke-width="0.8"/><text x="44.6" y="674.1" font-size="8.9" text-anchor="end">30</text><line x1="46.3" y1="643.3" x2="48.8" y2="643.3" stroke="#555" stroke-width="0.8"/><text x="44.6" y="646.5" font-size="8.9" text-anchor="end">60</text><line x1="46.3" y1="615.7" x2="48.8" y2="615.7" stroke="#555" stroke-width="0.8"/><text x="44.6" y="618.9" font-size="8.9" text-anchor="end">90</text><line x1="46.3" y1="588.1" x2="48.8" y2="588.1" stroke="#555" stroke-width="0.8"/><text x="44.6" y="591.3" font-size="8.9" text-anchor="end">120</text><line x1="46.3" y1="560.5" x2="48.8" y2="560.5" stroke="#555" stroke-width="0.8"/><text x="44.6" y="563.7" font-size="8.9" text-anchor="end">150</text><line x1="46.3" y1="684.7" x2="47.8" y2="684.7" stroke="#555" stroke-width="0.8"/><line x1="46.3" y1="657.1" x2="47.8" y2="657.1" stroke="#555" stroke-width="0.8"/><line x1="46.3" y1="629.5" x2="47.8" y2="629.5" stroke="#555" stroke-width="0.8"/><line x1="46.3" y1="601.9" x2="47.8" y2="601.9" stroke="#555" stroke-width="0.8"/><line x1="46.3" y1="574.3" x2="47.8" y2="574.3" stroke="#555" stroke-width="0.8"/><line x1="210.3" y1="698.5" x2="207.8" y2="698.5" stroke="#555" stroke-width="0.8"/><text x="212.5" y="701.7" font-size="8.9">0</text><line x1="210.3" y1="673.5" x2="207.8" y2="673.5" stroke="#555" stroke-width="0.8"/><text x="212.5" y="676.7" font-size="8.9">20</text><line x1="210.3" y1="648.5" x2="207.8" y2="648.5" stroke="#555" stroke-width="0.8"/><text x="212.5" y="651.7" font-size="8.9">40</text><line x1="210.3" y1="623.5" x2="207.8" y2="623.5" stroke="#555" stroke-width="0.8"/><text x="212.5" y="626.7" font-size="8.9">60</text><line x1="210.3" y1="598.5" x2="207.8" y2="598.5" stroke="#555" stroke-width="0.8"/><text x="212.5" y="601.7" font-size="8.9">80</text><line x1="210.3" y1="573.5" x2="207.8" y2="573.5" stroke="#555" stroke-width="0.8"/><text x="212.5" y="576.7" font-size="8.9">100</text><line x1="210.3" y1="686" x2="208.8" y2="686" stroke="#555" stroke-width="0.8"/><line x1="210.3" y1="661" x2="208.8" y2="661" stroke="#555" stroke-width="0.8"/><line x1="210.3" y1="636" x2="208.8" y2="636" stroke="#555" stroke-width="0.8"/><line x1="210.3" y1="611" x2="208.8" y2="611" stroke="#555" stroke-width="0.8"/><line x1="210.3" y1="586" x2="208.8" y2="586" stroke="#555" stroke-width="0.8"/><text x="128" y="720.9" font-size="10" text-anchor="middle">Cycle number</text><text x="26.3" y="628" font-size="10.5" text-anchor="middle" transform="rotate(-90 26.3 628)">Discharge capacity (mAh·g<tspan dy="-4" font-size="7.1">-1</tspan><tspan dy="4">)</tspan></text><text x="236.2" y="622" font-size="11.2" text-anchor="middle" fill="#3c9a32" transform="rotate(-90 236.2 622)">Coulombic efficiency%</text><line x1="47.3" y1="573.5" x2="210.3" y2="573.5" stroke="#3c9a32" stroke-width="3.5"/><path d="M46.3 600.1 47.4 598.4 48.5 597 49.6 595.9 50.7 595 51.8 594.3 52.9 593.7 54 593.1 55.1 592.7 56.2 592.4 57.3 592.2 58.4 592 59.5 591.9 60.6 591.8 61.7 591.8 62.8 591.8 63.9 591.8 65 591.9 66.1 592.1 67.2 592.3 68.3 592.5 69.4 592.7 70.5 592.8 71.6 593 72.7 593.2 73.8 593.4 74.9 593.6 76 593.8 77.1 594 78.2 594.2 79.3 594.4 80.4 594.6 81.5 594.9 82.6 595.1 83.7 595.3 84.8 595.5 85.9 595.8 87 596 88.1 596.2 89.2 596.5 90.3 596.7 91.4 596.9 92.5 597.2 93.6 597.4 94.7 597.6 95.8 597.9 96.9 598.1 98 598.3 99.1 598.6 100.2 598.8 101.3 599 102.4 599.3 103.5 599.5 104.6 599.8 105.7 600 106.8 600.3 107.9 600.5 109 600.7 110.1 601 111.2 601.2 112.3 601.5 113.4 601.7 114.5 601.9 115.6 602.2 116.7 602.4 117.8 602.6 118.9 602.8 120 603.1 121.2 603.3 122.3 603.5 123.4 603.7 124.5 604 125.6 604.2 126.7 604.4 127.8 604.6 128.9 604.8 130 605 131.1 605.3 132.2 605.5 133.3 605.7 134.4 605.9 135.5 606.1 136.6 606.3 137.7 606.5 138.8 606.7 139.9 606.9 141 607.1 142.1 607.3 143.2 607.5 144.3 607.7 145.4 607.9 146.5 608.1 147.6 608.4 148.7 608.6 149.8 608.7 150.9 608.9 152 609.1 153.1 609.3 154.2 609.5 155.3 609.7 156.4 609.9 157.5 610.1 158.6 610.3 159.7 610.5 160.8 610.7 161.9 610.8 163 611 164.1 611.2 165.2 611.4 166.3 611.6 167.4 611.7 168.5 611.9 169.6 612.1 170.7 612.2 171.8 612.4 172.9 612.6 174 612.7 175.1 612.9 176.2 613 177.3 613.2 178.4 613.4 179.5 613.5 180.6 613.7 181.7 613.8 182.8 614 183.9 614.2 185 614.3 186.1 614.5 187.2 614.6 188.3 614.8 189.4 615 190.5 615.1 191.6 615.3 192.7 615.4 193.8 615.6 194.9 615.8 196 615.9 197.1 616.1 198.2 616.3 199.3 616.4 200.4 616.6 201.5 616.7 202.6 616.9 203.7 617 204.8 617.2 205.9 617.4 207 617.5 208.1 617.7 209.2 617.8 210.3 618" stroke="#e8402a" stroke-width="3.4" fill="none" stroke-linecap="round" stroke-linejoin="round"/><circle cx="65.5" cy="644.3" r="2.3" fill="#e8402a"/><text x="74.3" y="645.7" font-size="8.1">Li-PF-COF  5C</text><text x="206.2" y="643" font-size="8" text-anchor="end">87 mAh·g<tspan dy="-3" font-size="5.4">-1</tspan><tspan dy="3"></tspan></text><text x="199.9" y="652.2" font-size="8" text-anchor="end">80.5%</text><line x1="202.2" y1="636.4" x2="208.5" y2="621" stroke="#111" stroke-width="0.8"/><path d="M208.5 621L208.6 625.9L205 624.4Z" stroke="none" stroke-width="1" fill="#111"/><path d="M61 606V620H50" stroke="#333" stroke-width="0.7" fill="none"/><line x1="52" y1="620" x2="47.5" y2="620" stroke="#333" stroke-width="0.7"/><path d="M47.5 620L51 618.6L51 621.4Z" stroke="none" stroke-width="1" fill="#333"/><path d="M194.8 581.5V594H205" stroke="#333" stroke-width="0.7" fill="none"/><line x1="204" y1="594" x2="209" y2="594" stroke="#333" stroke-width="0.7"/><path d="M209 594L205.5 595.4L205.5 592.6Z" stroke="none" stroke-width="1" fill="#333"/><text x="242.2" y="572.4" font-size="20" font-weight="bold" fill="#000">j</text><rect x="286" y="559.3" width="178.6" height="149.9" fill="url(#jbg)"/><rect x="286" y="559.3" width="178.6" height="149.9" fill="none" stroke="#666" stroke-width="0.8"/><line x1="304.2" y1="559.3" x2="304.2" y2="709.2" stroke="#444" stroke-width="0.7" stroke-dasharray="1.6 1.6"/><line x1="321.9" y1="559.3" x2="321.9" y2="709.2" stroke="#444" stroke-width="0.7" stroke-dasharray="1.6 1.6"/><line x1="339.5" y1="559.3" x2="339.5" y2="709.2" stroke="#444" stroke-width="0.7" stroke-dasharray="1.6 1.6"/><line x1="357.5" y1="559.3" x2="357.5" y2="709.2" stroke="#444" stroke-width="0.7" stroke-dasharray="1.6 1.6"/><line x1="375.3" y1="559.3" x2="375.3" y2="709.2" stroke="#444" stroke-width="0.7" stroke-dasharray="1.6 1.6"/><line x1="393.2" y1="559.3" x2="393.2" y2="709.2" stroke="#444" stroke-width="0.7" stroke-dasharray="1.6 1.6"/><line x1="411.1" y1="559.3" x2="411.1" y2="709.2" stroke="#444" stroke-width="0.7" stroke-dasharray="1.6 1.6"/><line x1="428.8" y1="559.3" x2="428.8" y2="709.2" stroke="#444" stroke-width="0.7" stroke-dasharray="1.6 1.6"/><line x1="446.7" y1="559.3" x2="446.7" y2="709.2" stroke="#444" stroke-width="0.7" stroke-dasharray="1.6 1.6"/><line x1="286" y1="696.4" x2="283" y2="696.4" stroke="#555" stroke-width="0.8"/><text x="280.8" y="699.8" font-size="9.3" text-anchor="end">130</text><line x1="286" y1="671.5" x2="283" y2="671.5" stroke="#555" stroke-width="0.8"/><text x="280.8" y="674.9" font-size="9.3" text-anchor="end">140</text><line x1="286" y1="646.6" x2="283" y2="646.6" stroke="#555" stroke-width="0.8"/><text x="280.8" y="650" font-size="9.3" text-anchor="end">150</text><line x1="286" y1="621.7" x2="283" y2="621.7" stroke="#555" stroke-width="0.8"/><text x="280.8" y="625.1" font-size="9.3" text-anchor="end">160</text><line x1="286" y1="596.8" x2="283" y2="596.8" stroke="#555" stroke-width="0.8"/><text x="280.8" y="600.2" font-size="9.3" text-anchor="end">170</text><line x1="286" y1="571.9" x2="283" y2="571.9" stroke="#555" stroke-width="0.8"/><text x="280.8" y="575.3" font-size="9.3" text-anchor="end">180</text><line x1="286" y1="684" x2="284.5" y2="684" stroke="#555" stroke-width="0.8"/><line x1="286" y1="659" x2="284.5" y2="659" stroke="#555" stroke-width="0.8"/><line x1="286" y1="634.1" x2="284.5" y2="634.1" stroke="#555" stroke-width="0.8"/><line x1="286" y1="609.2" x2="284.5" y2="609.2" stroke="#555" stroke-width="0.8"/><line x1="286" y1="584.4" x2="284.5" y2="584.4" stroke="#555" stroke-width="0.8"/><line x1="286" y1="559.4" x2="284.5" y2="559.4" stroke="#555" stroke-width="0.8"/><text x="259.6" y="635" font-size="10.5" text-anchor="middle" transform="rotate(-90 259.6 635)">Specific capacity (mAh g<tspan dy="-4" font-size="7.1">-1</tspan><tspan dy="4">)</tspan></text><text x="375" y="724.8" font-size="10.8" text-anchor="middle">Current density (C)</text><path d="M304.2 592.9l3.9 3.9l-3.9 3.9l-3.9-3.9zM321.9 617.8l3.9 3.9l-3.9 3.9l-3.9-3.9zM339.5 605.4l3.9 3.9l-3.9 3.9l-3.9-3.9zM357.5 692.5l3.9 3.9l-3.9 3.9l-3.9-3.9zM375.3 605.4l3.9 3.9l-3.9 3.9l-3.9-3.9zM393.2 607.8l3.9 3.9l-3.9 3.9l-3.9-3.9zM411.1 587.9l3.9 3.9l-3.9 3.9l-3.9-3.9zM428.8 592.9l3.9 3.9l-3.9 3.9l-3.9-3.9z" stroke="none" stroke-width="1" fill="#000"/><path d="M446.7 567.3L447.8 570.4L451.1 570.5L448.5 572.5L449.4 575.6L446.7 573.8L444 575.6L444.9 572.5L442.3 570.5L445.6 570.4Z" stroke="none" stroke-width="1" fill="#f03c9a"/><path d="M417.2 565 H428.8 V560 L439.4 569.7 L428.8 578.3 V574.6 H417.2Z" stroke="none" stroke-width="1" fill="url(#jar)"/><text x="303.4" y="610.2" font-size="8.5" text-anchor="middle" fill="#222">Ref49</text><text x="303.4" y="619.9" font-size="8.5" text-anchor="middle" fill="#222">0.1C</text><text x="321.2" y="634" font-size="8.5" text-anchor="middle" fill="#222">Ref50</text><text x="321.2" y="643.9" font-size="8.5" text-anchor="middle" fill="#222">0.1C</text><text x="339.2" y="591" font-size="8.5" text-anchor="middle" fill="#222">Ref51</text><text x="339.2" y="600.8" font-size="8.5" text-anchor="middle" fill="#222">0.2C</text><text x="357.6" y="677.9" font-size="8.5" text-anchor="middle" fill="#222">Ref52</text><text x="357.6" y="687.7" font-size="8.5" text-anchor="middle" fill="#222">0.5C</text><text x="373.3" y="622" font-size="8.5" text-anchor="middle" fill="#222">Ref53</text><text x="373.3" y="631.6" font-size="8.5" text-anchor="middle" fill="#222">1C</text><text x="392.4" y="597" font-size="8.5" text-anchor="middle" fill="#222">Ref54</text><text x="392.4" y="606.6" font-size="8.5" text-anchor="middle" fill="#222">1C</text><text x="412.5" y="605.7" font-size="8.5" text-anchor="middle" fill="#222">Ref55</text><text x="412.5" y="615.7" font-size="8.5" text-anchor="middle" fill="#222">1C</text><text x="434.4" y="613.9" font-size="8.5" text-anchor="middle" fill="#222">Ref56</text><text x="434.4" y="623.5" font-size="8.5" text-anchor="middle" fill="#222">1C</text><text x="446.7" y="584.7" font-size="8.5" text-anchor="middle" fill="#222">This work</text><text x="445.8" y="594.3" font-size="8.5" text-anchor="middle" fill="#222">1C</text><text x="473" y="571" font-size="20" font-weight="bold" fill="#000">k</text><line x1="498.1" y1="560.3" x2="657.7" y2="560.3" stroke="#777" stroke-width="0.8"/><line x1="498.1" y1="560.3" x2="498.1" y2="697.7" stroke="#555" stroke-width="0.8"/><line x1="498.1" y1="697.7" x2="657.7" y2="697.7" stroke="#555" stroke-width="0.8"/><line x1="657.7" y1="560.3" x2="657.7" y2="697.7" stroke="#6ab85a" stroke-width="0.9"/><line x1="498.1" y1="697.7" x2="498.1" y2="700.2" stroke="#555" stroke-width="0.8"/><text x="498.1" y="709.6" font-size="8.2" text-anchor="middle">0</text><line x1="524.7" y1="697.7" x2="524.7" y2="700.2" stroke="#555" stroke-width="0.8"/><text x="524.7" y="709.6" font-size="8.2" text-anchor="middle">20</text><line x1="551.3" y1="697.7" x2="551.3" y2="700.2" stroke="#555" stroke-width="0.8"/><text x="551.3" y="709.6" font-size="8.2" text-anchor="middle">40</text><line x1="577.9" y1="697.7" x2="577.9" y2="700.2" stroke="#555" stroke-width="0.8"/><text x="577.9" y="709.6" font-size="8.2" text-anchor="middle">60</text><line x1="604.5" y1="697.7" x2="604.5" y2="700.2" stroke="#555" stroke-width="0.8"/><text x="604.5" y="709.6" font-size="8.2" text-anchor="middle">80</text><line x1="631.1" y1="697.7" x2="631.1" y2="700.2" stroke="#555" stroke-width="0.8"/><text x="631.1" y="709.6" font-size="8.2" text-anchor="middle">100</text><line x1="657.7" y1="697.7" x2="657.7" y2="700.2" stroke="#555" stroke-width="0.8"/><text x="657.7" y="709.6" font-size="8.2" text-anchor="middle">120</text><line x1="511.4" y1="697.7" x2="511.4" y2="699.2" stroke="#555" stroke-width="0.8"/><line x1="538" y1="697.7" x2="538" y2="699.2" stroke="#555" stroke-width="0.8"/><line x1="564.6" y1="697.7" x2="564.6" y2="699.2" stroke="#555" stroke-width="0.8"/><line x1="591.2" y1="697.7" x2="591.2" y2="699.2" stroke="#555" stroke-width="0.8"/><line x1="617.8" y1="697.7" x2="617.8" y2="699.2" stroke="#555" stroke-width="0.8"/><line x1="644.4" y1="697.7" x2="644.4" y2="699.2" stroke="#555" stroke-width="0.8"/><line x1="498.1" y1="697.7" x2="495.6" y2="697.7" stroke="#555" stroke-width="0.8"/><text x="493.7" y="700.6" font-size="8.2" text-anchor="end">0</text><line x1="498.1" y1="670.2" x2="495.6" y2="670.2" stroke="#555" stroke-width="0.8"/><text x="493.7" y="673.1" font-size="8.2" text-anchor="end">10</text><line x1="498.1" y1="642.7" x2="495.6" y2="642.7" stroke="#555" stroke-width="0.8"/><text x="493.7" y="645.6" font-size="8.2" text-anchor="end">20</text><line x1="498.1" y1="615.3" x2="495.6" y2="615.3" stroke="#555" stroke-width="0.8"/><text x="493.7" y="618.2" font-size="8.2" text-anchor="end">30</text><line x1="498.1" y1="587.8" x2="495.6" y2="587.8" stroke="#555" stroke-width="0.8"/><text x="493.7" y="590.7" font-size="8.2" text-anchor="end">40</text><line x1="498.1" y1="560.3" x2="495.6" y2="560.3" stroke="#555" stroke-width="0.8"/><text x="493.7" y="563.2" font-size="8.2" text-anchor="end">50</text><line x1="498.1" y1="684" x2="496.6" y2="684" stroke="#555" stroke-width="0.8"/><line x1="498.1" y1="656.5" x2="496.6" y2="656.5" stroke="#555" stroke-width="0.8"/><line x1="498.1" y1="629" x2="496.6" y2="629" stroke="#555" stroke-width="0.8"/><line x1="498.1" y1="601.5" x2="496.6" y2="601.5" stroke="#555" stroke-width="0.8"/><line x1="498.1" y1="574" x2="496.6" y2="574" stroke="#555" stroke-width="0.8"/><line x1="657.7" y1="698.4" x2="660.2" y2="698.4" stroke="#6ab85a" stroke-width="0.8"/><text x="661.9" y="701.3" font-size="8" fill="#3c9a32">20</text><line x1="657.7" y1="667.7" x2="660.2" y2="667.7" stroke="#6ab85a" stroke-width="0.8"/><text x="661.9" y="670.6" font-size="8" fill="#3c9a32">40</text><line x1="657.7" y1="637" x2="660.2" y2="637" stroke="#6ab85a" stroke-width="0.8"/><text x="661.9" y="639.9" font-size="8" fill="#3c9a32">60</text><line x1="657.7" y1="606.4" x2="660.2" y2="606.4" stroke="#6ab85a" stroke-width="0.8"/><text x="661.9" y="609.3" font-size="8" fill="#3c9a32">80</text><line x1="657.7" y1="575.7" x2="660.2" y2="575.7" stroke="#6ab85a" stroke-width="0.8"/><text x="661.9" y="578.6" font-size="8" fill="#3c9a32">100</text><line x1="657.7" y1="683.1" x2="659.2" y2="683.1" stroke="#6ab85a" stroke-width="0.8"/><line x1="657.7" y1="652.4" x2="659.2" y2="652.4" stroke="#6ab85a" stroke-width="0.8"/><line x1="657.7" y1="621.7" x2="659.2" y2="621.7" stroke="#6ab85a" stroke-width="0.8"/><line x1="657.7" y1="591" x2="659.2" y2="591" stroke="#6ab85a" stroke-width="0.8"/><line x1="657.7" y1="560.3" x2="659.2" y2="560.3" stroke="#6ab85a" stroke-width="0.8"/><text x="577.8" y="721.7" font-size="8.7" text-anchor="middle">Cycle number (n)</text><text x="482.6" y="628.9" font-size="9.2" text-anchor="middle" transform="rotate(-90 482.6 628.9)">Capacity (mAh)</text><text x="680.3" y="629.2" font-size="9" text-anchor="middle" fill="#3c9a32" transform="rotate(-90 680.3 629.2)">CE (%)</text><path d="M498.8 583.4 499.4 580.3 500.8 578.4 503.4 576.8 508.7 576 511.4 576.1 514.1 575.4 516.7 575.7 519.4 575.5 522 575.2 524.7 575.6 527.4 575.7 530 576.1 532.7 575.9 535.3 575.7 538 575.5 540.7 575.4 543.3 575.8 546 576.1 548.6 575.9 551.3 575.3 554 575.9 556.6 575.7 559.3 575.3 561.9 576.1 564.6 575.6 567.3 575.3 569.9 575.9 572.6 575.6 575.2 575.3 577.9 576 580.6 575.7 583.2 575.4 585.9 575.5 588.5 575.7 591.2 576 593.9 575.7 596.5 575.8 599.2 575.7 601.8 575.8 604.5 575.4 607.2 575.4 609.8 575.9 612.5 575.6 615.1 575.9 617.8 575.7 620.5 575.8 623.1 575.5 625.8 575.8 628.4 575.7 631.1 575.5 633.8 575.8 636.4 575.3 639.1 576 641.7 575.5 644.4 575.8 647.1 575.7 649.7 575.6 652.4 575.7 655 575.8 657.7 576.1" stroke="#3c9a32" stroke-width="3" fill="none" stroke-linecap="round" stroke-linejoin="round"/><circle cx="498.6" cy="585.7" r="1.8" fill="#3c9a32"/><path d="M498.8 600.1 499.4 605.6 500.8 601 503.4 601 506.1 600.4 508.7 600.5 511.4 600.4 514.1 600.3 516.7 600.7 519.4 601.4 522 601.5 524.7 601.5 527.4 602.1 530 601.7 532.7 601.9 535.3 602.1 538 602.4 540.7 602.1 543.3 602.6 546 602.3 548.6 602 551.3 601.6 554 601.6 556.6 601.8 559.3 601.6 561.9 601.7 564.6 601.8 567.3 602.1 569.9 602.2 572.6 602.4 575.2 602.4 577.9 602.7 580.6 603.1 583.2 603.3 585.9 603.2 588.5 603.1 591.2 603.2 593.9 603 596.5 602.7 599.2 603.3 601.8 602.4 604.5 602.8 607.2 602.5 609.8 602.2 612.5 602.4 615.1 603 617.8 602.7 620.5 603.5 623.1 603.5 625.8 603.4 628.4 604 631.1 604.1 633.8 604.1 636.4 604.1 639.1 604.2 641.7 604.7 644.4 604.2 647.1 604 649.7 604.2 652.4 603.6 655 603.5 657.7 603.2" stroke="#111" stroke-width="3.2" fill="none" stroke-linecap="round" stroke-linejoin="round"/><text x="568.7" y="614.2" font-size="8.2" text-anchor="middle">Li||NCM811 pouch cell</text><text x="566.8" y="625.4" font-size="8.2" text-anchor="middle">2.7-4.3 V, 0.5C (C=200 mA·g<tspan dy="-2.8" font-size="5.8">-1</tspan><tspan dy="2.8">)</tspan></text><text x="615.6" y="635.2" font-size="6.7" text-anchor="middle">capacity retention 94%</text><line x1="654.6" y1="609.5" x2="633.1" y2="625.8" stroke="#333" stroke-width="0.6"/><path d="M633.1 625.8L635.1 622.6L636.7 624.7Z" stroke="none" stroke-width="1" fill="#333"/><path d="M526 590V600M526 589.5H503" stroke="#333" stroke-width="0.7" fill="none"/><line x1="506" y1="589.5" x2="499.5" y2="589.5" stroke="#333" stroke-width="0.7"/><path d="M499.5 589.5L503 588.1L503 590.9Z" stroke="none" stroke-width="1" fill="#333"/><path d="M621.4 582V587.6H650" stroke="#333" stroke-width="0.7" fill="none"/><line x1="648" y1="587.6" x2="656.5" y2="587.6" stroke="#333" stroke-width="0.7"/><path d="M656.5 587.6L653 589L653 586.2Z" stroke="none" stroke-width="1" fill="#333"/><rect x="506.8" y="640" width="139.8" height="54.3" fill="#222"/><path d="M510.2 641.8 L554.3 645.2 L553.2 691.6 L509 692.7 Z" fill="#d6d6d6"/><path d="M512 650 Q530 646 550 650 M512 680 Q530 684 550 678" stroke="#c4c4c4" stroke-width="2" fill="none"/><circle cx="531.7" cy="661" r="7.5" fill="#e4e4e4" stroke="#7890a8" stroke-width="1"/><path d="M526 661 H537" stroke="#5a9a5a" stroke-width="1.6"/><path d="M554 652 L572 650.5 L583 657 M554 675 L572 673 L583 665" stroke="#b8b8b8" stroke-width="2.6" fill="none"/><path d="M583 657 L590 661 M583 665 L590 662" stroke="#c03030" stroke-width="1" fill="none"/><rect x="590" y="655.8" width="53.7" height="15.4" fill="#3c0808"/><text x="597" y="669.8" font-size="15" fill="#f03838" filter="url(#glow)" letter-spacing="-0.9">YNU</text><path d="M634.5 669.5 L628 662.5 Q625.5 659 627.5 657.3 Q630.5 655.5 634.5 659.5 Q638.5 655.5 641.5 657.3 Q643.5 659 641 662.5 Z" fill="none" stroke="#f03838" stroke-width="1.2" filter="url(#glow)"/></svg></body></html>
